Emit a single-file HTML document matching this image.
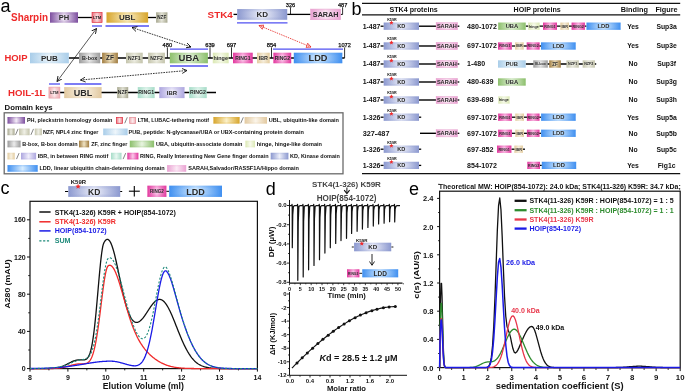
<!DOCTYPE html>
<html><head><meta charset="utf-8"><style>
html,body{margin:0;padding:0;background:#fff;overflow:hidden;width:685px;height:392px;}
svg{display:block;font-family:"Liberation Sans",Arial,sans-serif;}
</style></head><body>
<svg width="685" height="392" viewBox="0 0 685 392">
<defs>
<linearGradient id="h_ph" x1="0" y1="0" x2="1" y2="0"><stop offset="0" stop-color="#7d4f9f"/><stop offset="0.5" stop-color="#f4ecf8"/><stop offset="1" stop-color="#7d4f9f"/></linearGradient>
<linearGradient id="v_ph" x1="0" y1="0" x2="0" y2="1"><stop offset="0" stop-color="#7d4f9f" stop-opacity="0.35"/><stop offset="0.3" stop-color="#7d4f9f" stop-opacity="0"/><stop offset="0.7" stop-color="#7d4f9f" stop-opacity="0"/><stop offset="1" stop-color="#7d4f9f" stop-opacity="0.35"/></linearGradient>
<linearGradient id="h_ltm" x1="0" y1="0" x2="1" y2="0"><stop offset="0" stop-color="#e8707c"/><stop offset="0.5" stop-color="#fbe0e2"/><stop offset="1" stop-color="#e8707c"/></linearGradient>
<linearGradient id="v_ltm" x1="0" y1="0" x2="0" y2="1"><stop offset="0" stop-color="#e8707c" stop-opacity="0.35"/><stop offset="0.3" stop-color="#e8707c" stop-opacity="0"/><stop offset="0.7" stop-color="#e8707c" stop-opacity="0"/><stop offset="1" stop-color="#e8707c" stop-opacity="0.35"/></linearGradient>
<linearGradient id="h_ltm2" x1="0" y1="0" x2="1" y2="0"><stop offset="0" stop-color="#eeaab0"/><stop offset="0.5" stop-color="#fcecee"/><stop offset="1" stop-color="#eeaab0"/></linearGradient>
<linearGradient id="v_ltm2" x1="0" y1="0" x2="0" y2="1"><stop offset="0" stop-color="#eeaab0" stop-opacity="0.35"/><stop offset="0.3" stop-color="#eeaab0" stop-opacity="0"/><stop offset="0.7" stop-color="#eeaab0" stop-opacity="0"/><stop offset="1" stop-color="#eeaab0" stop-opacity="0.35"/></linearGradient>
<linearGradient id="h_ubl" x1="0" y1="0" x2="1" y2="0"><stop offset="0" stop-color="#d7a52c"/><stop offset="0.5" stop-color="#fbf0c8"/><stop offset="1" stop-color="#d7a52c"/></linearGradient>
<linearGradient id="v_ubl" x1="0" y1="0" x2="0" y2="1"><stop offset="0" stop-color="#d7a52c" stop-opacity="0.35"/><stop offset="0.3" stop-color="#d7a52c" stop-opacity="0"/><stop offset="0.7" stop-color="#d7a52c" stop-opacity="0"/><stop offset="1" stop-color="#d7a52c" stop-opacity="0.35"/></linearGradient>
<linearGradient id="h_ubl2" x1="0" y1="0" x2="1" y2="0"><stop offset="0" stop-color="#e2c9a0"/><stop offset="0.5" stop-color="#fbf5ea"/><stop offset="1" stop-color="#e2c9a0"/></linearGradient>
<linearGradient id="v_ubl2" x1="0" y1="0" x2="0" y2="1"><stop offset="0" stop-color="#e2c9a0" stop-opacity="0.35"/><stop offset="0.3" stop-color="#e2c9a0" stop-opacity="0"/><stop offset="0.7" stop-color="#e2c9a0" stop-opacity="0"/><stop offset="1" stop-color="#e2c9a0" stop-opacity="0.35"/></linearGradient>
<linearGradient id="h_nzf" x1="0" y1="0" x2="1" y2="0"><stop offset="0" stop-color="#a8a890"/><stop offset="0.5" stop-color="#eeeee4"/><stop offset="1" stop-color="#a8a890"/></linearGradient>
<linearGradient id="v_nzf" x1="0" y1="0" x2="0" y2="1"><stop offset="0" stop-color="#a8a890" stop-opacity="0.35"/><stop offset="0.3" stop-color="#a8a890" stop-opacity="0"/><stop offset="0.7" stop-color="#a8a890" stop-opacity="0"/><stop offset="1" stop-color="#a8a890" stop-opacity="0.35"/></linearGradient>
<linearGradient id="h_pub" x1="0" y1="0" x2="1" y2="0"><stop offset="0" stop-color="#a9cde9"/><stop offset="0.5" stop-color="#eef6fb"/><stop offset="1" stop-color="#a9cde9"/></linearGradient>
<linearGradient id="v_pub" x1="0" y1="0" x2="0" y2="1"><stop offset="0" stop-color="#a9cde9" stop-opacity="0.35"/><stop offset="0.3" stop-color="#a9cde9" stop-opacity="0"/><stop offset="0.7" stop-color="#a9cde9" stop-opacity="0"/><stop offset="1" stop-color="#a9cde9" stop-opacity="0.35"/></linearGradient>
<linearGradient id="h_bbox" x1="0" y1="0" x2="1" y2="0"><stop offset="0" stop-color="#9c9c9c"/><stop offset="0.5" stop-color="#ececec"/><stop offset="1" stop-color="#9c9c9c"/></linearGradient>
<linearGradient id="v_bbox" x1="0" y1="0" x2="0" y2="1"><stop offset="0" stop-color="#9c9c9c" stop-opacity="0.35"/><stop offset="0.3" stop-color="#9c9c9c" stop-opacity="0"/><stop offset="0.7" stop-color="#9c9c9c" stop-opacity="0"/><stop offset="1" stop-color="#9c9c9c" stop-opacity="0.35"/></linearGradient>
<linearGradient id="h_zf" x1="0" y1="0" x2="1" y2="0"><stop offset="0" stop-color="#a07c40"/><stop offset="0.5" stop-color="#f0e4c4"/><stop offset="1" stop-color="#a07c40"/></linearGradient>
<linearGradient id="v_zf" x1="0" y1="0" x2="0" y2="1"><stop offset="0" stop-color="#a07c40" stop-opacity="0.35"/><stop offset="0.3" stop-color="#a07c40" stop-opacity="0"/><stop offset="0.7" stop-color="#a07c40" stop-opacity="0"/><stop offset="1" stop-color="#a07c40" stop-opacity="0.35"/></linearGradient>
<linearGradient id="h_nzfh" x1="0" y1="0" x2="1" y2="0"><stop offset="0" stop-color="#c4c4ac"/><stop offset="0.5" stop-color="#f0f0e6"/><stop offset="1" stop-color="#c4c4ac"/></linearGradient>
<linearGradient id="v_nzfh" x1="0" y1="0" x2="0" y2="1"><stop offset="0" stop-color="#c4c4ac" stop-opacity="0.35"/><stop offset="0.3" stop-color="#c4c4ac" stop-opacity="0"/><stop offset="0.7" stop-color="#c4c4ac" stop-opacity="0"/><stop offset="1" stop-color="#c4c4ac" stop-opacity="0.35"/></linearGradient>
<linearGradient id="h_uba" x1="0" y1="0" x2="1" y2="0"><stop offset="0" stop-color="#8cbf6c"/><stop offset="0.5" stop-color="#e8f4e0"/><stop offset="1" stop-color="#8cbf6c"/></linearGradient>
<linearGradient id="v_uba" x1="0" y1="0" x2="0" y2="1"><stop offset="0" stop-color="#8cbf6c" stop-opacity="0.35"/><stop offset="0.3" stop-color="#8cbf6c" stop-opacity="0"/><stop offset="0.7" stop-color="#8cbf6c" stop-opacity="0"/><stop offset="1" stop-color="#8cbf6c" stop-opacity="0.35"/></linearGradient>
<linearGradient id="h_hinge" x1="0" y1="0" x2="1" y2="0"><stop offset="0" stop-color="#dbe8b4"/><stop offset="0.5" stop-color="#f8fbee"/><stop offset="1" stop-color="#dbe8b4"/></linearGradient>
<linearGradient id="v_hinge" x1="0" y1="0" x2="0" y2="1"><stop offset="0" stop-color="#dbe8b4" stop-opacity="0.35"/><stop offset="0.3" stop-color="#dbe8b4" stop-opacity="0"/><stop offset="0.7" stop-color="#dbe8b4" stop-opacity="0"/><stop offset="1" stop-color="#dbe8b4" stop-opacity="0.35"/></linearGradient>
<linearGradient id="h_ring" x1="0" y1="0" x2="1" y2="0"><stop offset="0" stop-color="#e2389e"/><stop offset="0.5" stop-color="#fbc8ea"/><stop offset="1" stop-color="#e2389e"/></linearGradient>
<linearGradient id="v_ring" x1="0" y1="0" x2="0" y2="1"><stop offset="0" stop-color="#e2389e" stop-opacity="0.35"/><stop offset="0.3" stop-color="#e2389e" stop-opacity="0"/><stop offset="0.7" stop-color="#e2389e" stop-opacity="0"/><stop offset="1" stop-color="#e2389e" stop-opacity="0.35"/></linearGradient>
<linearGradient id="h_ibr" x1="0" y1="0" x2="1" y2="0"><stop offset="0" stop-color="#e3cc9f"/><stop offset="0.5" stop-color="#f8f2e4"/><stop offset="1" stop-color="#e3cc9f"/></linearGradient>
<linearGradient id="v_ibr" x1="0" y1="0" x2="0" y2="1"><stop offset="0" stop-color="#e3cc9f" stop-opacity="0.35"/><stop offset="0.3" stop-color="#e3cc9f" stop-opacity="0"/><stop offset="0.7" stop-color="#e3cc9f" stop-opacity="0"/><stop offset="1" stop-color="#e3cc9f" stop-opacity="0.35"/></linearGradient>
<linearGradient id="h_ldd" x1="0" y1="0" x2="1" y2="0"><stop offset="0" stop-color="#3f8ff0"/><stop offset="0.5" stop-color="#d6ecff"/><stop offset="1" stop-color="#3f8ff0"/></linearGradient>
<linearGradient id="v_ldd" x1="0" y1="0" x2="0" y2="1"><stop offset="0" stop-color="#3f8ff0" stop-opacity="0.35"/><stop offset="0.3" stop-color="#3f8ff0" stop-opacity="0"/><stop offset="0.7" stop-color="#3f8ff0" stop-opacity="0"/><stop offset="1" stop-color="#3f8ff0" stop-opacity="0.35"/></linearGradient>
<linearGradient id="h_kd" x1="0" y1="0" x2="1" y2="0"><stop offset="0" stop-color="#8b98cf"/><stop offset="0.5" stop-color="#eef0fa"/><stop offset="1" stop-color="#8b98cf"/></linearGradient>
<linearGradient id="v_kd" x1="0" y1="0" x2="0" y2="1"><stop offset="0" stop-color="#8b98cf" stop-opacity="0.35"/><stop offset="0.3" stop-color="#8b98cf" stop-opacity="0"/><stop offset="0.7" stop-color="#8b98cf" stop-opacity="0"/><stop offset="1" stop-color="#8b98cf" stop-opacity="0.35"/></linearGradient>
<linearGradient id="h_sarah" x1="0" y1="0" x2="1" y2="0"><stop offset="0" stop-color="#eaa2d2"/><stop offset="0.5" stop-color="#fbeaf5"/><stop offset="1" stop-color="#eaa2d2"/></linearGradient>
<linearGradient id="v_sarah" x1="0" y1="0" x2="0" y2="1"><stop offset="0" stop-color="#eaa2d2" stop-opacity="0.35"/><stop offset="0.3" stop-color="#eaa2d2" stop-opacity="0"/><stop offset="0.7" stop-color="#eaa2d2" stop-opacity="0"/><stop offset="1" stop-color="#eaa2d2" stop-opacity="0.35"/></linearGradient>
<linearGradient id="h_ringm" x1="0" y1="0" x2="1" y2="0"><stop offset="0" stop-color="#a6dcc8"/><stop offset="0.5" stop-color="#eaf8f2"/><stop offset="1" stop-color="#a6dcc8"/></linearGradient>
<linearGradient id="v_ringm" x1="0" y1="0" x2="0" y2="1"><stop offset="0" stop-color="#a6dcc8" stop-opacity="0.35"/><stop offset="0.3" stop-color="#a6dcc8" stop-opacity="0"/><stop offset="0.7" stop-color="#a6dcc8" stop-opacity="0"/><stop offset="1" stop-color="#a6dcc8" stop-opacity="0.35"/></linearGradient>
<linearGradient id="h_ibrl" x1="0" y1="0" x2="1" y2="0"><stop offset="0" stop-color="#ada6df"/><stop offset="0.5" stop-color="#f0eefb"/><stop offset="1" stop-color="#ada6df"/></linearGradient>
<linearGradient id="v_ibrl" x1="0" y1="0" x2="0" y2="1"><stop offset="0" stop-color="#ada6df" stop-opacity="0.35"/><stop offset="0.3" stop-color="#ada6df" stop-opacity="0"/><stop offset="0.7" stop-color="#ada6df" stop-opacity="0"/><stop offset="1" stop-color="#ada6df" stop-opacity="0.35"/></linearGradient>
<marker id="ah" markerWidth="6" markerHeight="6" refX="5" refY="3" orient="auto-start-reverse" markerUnits="userSpaceOnUse"><path d="M0,0.5 L5,3 L0,5.5" fill="none" stroke="#000" stroke-width="0.8"/></marker>
<marker id="ahr" markerWidth="6" markerHeight="6" refX="5" refY="3" orient="auto-start-reverse" markerUnits="userSpaceOnUse"><path d="M0.5,0.8 L5,3 L0.5,5.2 Z" fill="none" stroke="#e8322e" stroke-width="0.8"/></marker>
</defs>
<rect x="0.00" y="0.00" width="685.00" height="392.00" fill="#fff" stroke="none" stroke-width="0" />
<text x="0.50" y="12.30" font-size="18" font-weight="normal" fill="#000" text-anchor="start" >a</text>
<text x="11.00" y="21.20" font-size="10.40" font-weight="bold" fill="#ee2a2a" text-anchor="start" textLength="37.00" lengthAdjust="spacingAndGlyphs" >Sharpin</text>
<line x1="78.00" y1="17.50" x2="92.00" y2="17.50" stroke="#000" stroke-width="1.3" />
<line x1="148.00" y1="17.50" x2="156.00" y2="17.50" stroke="#000" stroke-width="1.3" />
<rect x="50.00" y="12.35" width="28.00" height="10.30" fill="url(#h_ph)" stroke="none" stroke-width="0" />
<rect x="50.00" y="12.35" width="28.00" height="10.30" fill="url(#v_ph)" stroke="none" stroke-width="0" />
<text x="64.00" y="20.20" font-size="7.50" font-weight="bold" fill="#2a2a2a" text-anchor="middle" >PH</text>
<rect x="92.00" y="12.35" width="10.10" height="10.30" fill="url(#h_ltm)" stroke="none" stroke-width="0" />
<rect x="92.00" y="12.35" width="10.10" height="10.30" fill="url(#v_ltm)" stroke="#e03040" stroke-width="0.6" />
<text x="97.05" y="19.01" font-size="4.20" font-weight="bold" fill="#2a2a2a" text-anchor="middle" >LTM</text>
<rect x="106.50" y="12.35" width="41.60" height="10.30" fill="url(#h_ubl)" stroke="none" stroke-width="0" />
<rect x="106.50" y="12.35" width="41.60" height="10.30" fill="url(#v_ubl)" stroke="none" stroke-width="0" />
<text x="127.30" y="20.38" font-size="8.00" font-weight="bold" fill="#2a2a2a" text-anchor="middle" >UBL</text>
<rect x="156.10" y="12.35" width="11.30" height="10.30" fill="url(#h_nzf)" stroke="none" stroke-width="0" />
<rect x="156.10" y="12.35" width="11.30" height="10.30" fill="url(#v_nzf)" stroke="none" stroke-width="0" />
<text x="161.75" y="19.16" font-size="4.60" font-weight="bold" fill="#2a2a2a" text-anchor="middle" >NZF</text>
<line x1="92.00" y1="26.00" x2="102.00" y2="26.00" stroke="#5050f2" stroke-width="1.3" />
<line x1="105.50" y1="26.00" x2="149.00" y2="26.00" stroke="#5050f2" stroke-width="1.3" />
<text x="207.60" y="18.10" font-size="9.60" font-weight="bold" fill="#ee2a2a" text-anchor="start" textLength="25.20" lengthAdjust="spacingAndGlyphs" >STK4</text>
<line x1="233.50" y1="14.40" x2="237.20" y2="14.40" stroke="#000" stroke-width="1.3" />
<line x1="287.20" y1="14.40" x2="310.70" y2="14.40" stroke="#000" stroke-width="1.3" />
<line x1="340.60" y1="14.40" x2="342.60" y2="14.40" stroke="#000" stroke-width="1.0" />
<line x1="290.50" y1="14.40" x2="290.50" y2="7.30" stroke="#000" stroke-width="0.8" />
<line x1="342.60" y1="14.40" x2="342.60" y2="7.30" stroke="#000" stroke-width="0.8" />
<rect x="237.20" y="9.05" width="50.00" height="10.70" fill="url(#h_kd)" stroke="none" stroke-width="0" />
<rect x="237.20" y="9.05" width="50.00" height="10.70" fill="url(#v_kd)" stroke="none" stroke-width="0" />
<text x="262.20" y="17.28" font-size="8.00" font-weight="bold" fill="#2a2a2a" text-anchor="middle" >KD</text>
<rect x="310.70" y="9.05" width="29.90" height="10.70" fill="url(#h_sarah)" stroke="none" stroke-width="0" />
<rect x="310.70" y="9.05" width="29.90" height="10.70" fill="url(#v_sarah)" stroke="#e6a0cc" stroke-width="0.5" />
<text x="325.65" y="16.99" font-size="7.20" font-weight="bold" fill="#2a2a2a" text-anchor="middle" >SARAH</text>
<text x="290.50" y="6.80" font-size="5.5" font-weight="normal" fill="#111" text-anchor="middle" textLength="9.40" lengthAdjust="spacingAndGlyphs" stroke="#111" stroke-width="0.25">326</text>
<text x="342.60" y="6.80" font-size="5.5" font-weight="normal" fill="#111" text-anchor="middle" textLength="9.40" lengthAdjust="spacingAndGlyphs" stroke="#111" stroke-width="0.25">487</text>
<line x1="237.00" y1="22.90" x2="287.50" y2="22.90" stroke="#5050f2" stroke-width="1.3" />
<text x="4.40" y="61.30" font-size="9.80" font-weight="bold" fill="#ee2a2a" text-anchor="start" textLength="23.10" lengthAdjust="spacingAndGlyphs" >HOIP</text>
<line x1="68.80" y1="58.00" x2="344.60" y2="58.00" stroke="#000" stroke-width="1.5" />
<rect x="30.00" y="52.75" width="38.80" height="10.50" fill="url(#h_pub)" stroke="none" stroke-width="0" />
<rect x="30.00" y="52.75" width="38.80" height="10.50" fill="url(#v_pub)" stroke="none" stroke-width="0" />
<text x="49.40" y="60.88" font-size="8.00" font-weight="bold" fill="#2a2a2a" text-anchor="middle" >PUB</text>
<rect x="79.00" y="52.75" width="21.20" height="10.50" fill="url(#h_bbox)" stroke="none" stroke-width="0" />
<rect x="79.00" y="52.75" width="21.20" height="10.50" fill="url(#v_bbox)" stroke="none" stroke-width="0" />
<text x="89.60" y="59.94" font-size="5.40" font-weight="bold" fill="#2a2a2a" text-anchor="middle" >B-box</text>
<rect x="102.10" y="52.75" width="15.80" height="10.50" fill="url(#h_zf)" stroke="none" stroke-width="0" />
<rect x="102.10" y="52.75" width="15.80" height="10.50" fill="url(#v_zf)" stroke="none" stroke-width="0" />
<text x="110.00" y="60.34" font-size="6.50" font-weight="bold" fill="#2a2a2a" text-anchor="middle" >ZF</text>
<rect x="126.00" y="52.75" width="16.70" height="10.50" fill="url(#h_nzfh)" stroke="none" stroke-width="0" />
<rect x="126.00" y="52.75" width="16.70" height="10.50" fill="url(#v_nzfh)" stroke="none" stroke-width="0" />
<text x="134.35" y="59.80" font-size="5.00" font-weight="bold" fill="#2a2a2a" text-anchor="middle" >NZF1</text>
<rect x="148.10" y="52.75" width="16.80" height="10.50" fill="url(#h_nzfh)" stroke="none" stroke-width="0" />
<rect x="148.10" y="52.75" width="16.80" height="10.50" fill="url(#v_nzfh)" stroke="none" stroke-width="0" />
<text x="156.50" y="59.80" font-size="5.00" font-weight="bold" fill="#2a2a2a" text-anchor="middle" >NZF2</text>
<rect x="169.80" y="52.75" width="38.10" height="10.50" fill="url(#h_uba)" stroke="none" stroke-width="0" />
<rect x="169.80" y="52.75" width="38.10" height="10.50" fill="url(#v_uba)" stroke="none" stroke-width="0" />
<text x="188.85" y="61.42" font-size="9.50" font-weight="bold" fill="#2a2a2a" text-anchor="middle" >UBA</text>
<rect x="212.80" y="52.75" width="15.80" height="10.50" fill="url(#h_hinge)" stroke="none" stroke-width="0" />
<rect x="212.80" y="52.75" width="15.80" height="10.50" fill="url(#v_hinge)" stroke="none" stroke-width="0" />
<text x="220.70" y="59.94" font-size="5.40" font-weight="bold" fill="#2a2a2a" text-anchor="middle" >hinge</text>
<rect x="233.00" y="52.75" width="19.70" height="10.50" fill="url(#h_ring)" stroke="none" stroke-width="0" />
<rect x="233.00" y="52.75" width="19.70" height="10.50" fill="url(#v_ring)" stroke="none" stroke-width="0" />
<text x="242.85" y="59.80" font-size="5.00" font-weight="bold" fill="#2a2a2a" text-anchor="middle" >RING1</text>
<rect x="257.00" y="52.75" width="12.70" height="10.50" fill="url(#h_ibr)" stroke="none" stroke-width="0" />
<rect x="257.00" y="52.75" width="12.70" height="10.50" fill="url(#v_ibr)" stroke="none" stroke-width="0" />
<text x="263.35" y="59.94" font-size="5.40" font-weight="bold" fill="#2a2a2a" text-anchor="middle" >IBR</text>
<rect x="273.40" y="52.75" width="17.80" height="10.50" fill="url(#h_ring)" stroke="none" stroke-width="0" />
<rect x="273.40" y="52.75" width="17.80" height="10.50" fill="url(#v_ring)" stroke="none" stroke-width="0" />
<text x="282.30" y="59.80" font-size="5.00" font-weight="bold" fill="#2a2a2a" text-anchor="middle" >RING2</text>
<rect x="293.80" y="52.75" width="48.50" height="10.50" fill="url(#h_ldd)" stroke="none" stroke-width="0" />
<rect x="293.80" y="52.75" width="48.50" height="10.50" fill="url(#v_ldd)" stroke="none" stroke-width="0" />
<text x="318.05" y="61.31" font-size="9.20" font-weight="bold" fill="#2a2a2a" text-anchor="middle" >LDD</text>
<line x1="167.40" y1="58.00" x2="167.40" y2="47.40" stroke="#000" stroke-width="0.8" />
<line x1="210.00" y1="58.00" x2="210.00" y2="47.40" stroke="#000" stroke-width="0.8" />
<line x1="231.50" y1="58.00" x2="231.50" y2="47.40" stroke="#000" stroke-width="0.8" />
<line x1="271.50" y1="58.00" x2="271.50" y2="47.40" stroke="#000" stroke-width="0.8" />
<line x1="344.60" y1="58.00" x2="344.60" y2="47.40" stroke="#000" stroke-width="0.8" />
<text x="167.40" y="46.90" font-size="5.5" font-weight="normal" fill="#111" text-anchor="middle" textLength="9.60" lengthAdjust="spacingAndGlyphs" stroke="#111" stroke-width="0.25">480</text>
<text x="210.00" y="46.90" font-size="5.5" font-weight="normal" fill="#111" text-anchor="middle" textLength="9.60" lengthAdjust="spacingAndGlyphs" stroke="#111" stroke-width="0.25">639</text>
<text x="231.50" y="46.90" font-size="5.5" font-weight="normal" fill="#111" text-anchor="middle" textLength="9.60" lengthAdjust="spacingAndGlyphs" stroke="#111" stroke-width="0.25">697</text>
<text x="271.50" y="46.90" font-size="5.5" font-weight="normal" fill="#111" text-anchor="middle" textLength="9.60" lengthAdjust="spacingAndGlyphs" stroke="#111" stroke-width="0.25">854</text>
<text x="344.60" y="46.90" font-size="5.5" font-weight="normal" fill="#111" text-anchor="middle" textLength="12.60" lengthAdjust="spacingAndGlyphs" stroke="#111" stroke-width="0.25">1072</text>
<line x1="170.00" y1="49.10" x2="208.00" y2="49.10" stroke="#5050f2" stroke-width="1.3" />
<line x1="170.00" y1="66.00" x2="208.00" y2="66.00" stroke="#5050f2" stroke-width="1.3" />
<line x1="273.00" y1="49.10" x2="343.00" y2="49.10" stroke="#5050f2" stroke-width="1.3" />
<text x="8.00" y="95.70" font-size="9.60" font-weight="bold" fill="#ee2a2a" text-anchor="start" textLength="37.50" lengthAdjust="spacingAndGlyphs" >HOIL-1L</text>
<line x1="59.90" y1="92.60" x2="216.00" y2="92.60" stroke="#000" stroke-width="1.5" />
<rect x="48.90" y="87.10" width="11.00" height="11.00" fill="url(#h_ltm2)" stroke="none" stroke-width="0" />
<rect x="48.90" y="87.10" width="11.00" height="11.00" fill="url(#v_ltm2)" stroke="#e9a0a8" stroke-width="0.6" />
<text x="54.40" y="94.11" font-size="4.20" font-weight="bold" fill="#2a2a2a" text-anchor="middle" >LTM</text>
<rect x="64.20" y="87.10" width="37.40" height="11.00" fill="url(#h_ubl2)" stroke="none" stroke-width="0" />
<rect x="64.20" y="87.10" width="37.40" height="11.00" fill="url(#v_ubl2)" stroke="none" stroke-width="0" />
<text x="82.90" y="95.84" font-size="9.00" font-weight="bold" fill="#2a2a2a" text-anchor="middle" >UBL</text>
<rect x="117.20" y="87.10" width="11.00" height="11.00" fill="url(#h_nzf)" stroke="none" stroke-width="0" />
<rect x="117.20" y="87.10" width="11.00" height="11.00" fill="url(#v_nzf)" stroke="none" stroke-width="0" />
<text x="122.70" y="94.40" font-size="5.00" font-weight="bold" fill="#2a2a2a" text-anchor="middle" >NZF</text>
<rect x="137.80" y="87.10" width="16.80" height="11.00" fill="url(#h_ringm)" stroke="none" stroke-width="0" />
<rect x="137.80" y="87.10" width="16.80" height="11.00" fill="url(#v_ringm)" stroke="none" stroke-width="0" />
<text x="146.20" y="94.47" font-size="5.20" font-weight="bold" fill="#2a2a2a" text-anchor="middle" >RING1</text>
<rect x="159.30" y="87.10" width="25.20" height="11.00" fill="url(#h_ibrl)" stroke="none" stroke-width="0" />
<rect x="159.30" y="87.10" width="25.20" height="11.00" fill="url(#v_ibrl)" stroke="none" stroke-width="0" />
<text x="171.90" y="94.76" font-size="6.00" font-weight="bold" fill="#2a2a2a" text-anchor="middle" >IBR</text>
<rect x="189.20" y="87.10" width="17.50" height="11.00" fill="url(#h_ringm)" stroke="none" stroke-width="0" />
<rect x="189.20" y="87.10" width="17.50" height="11.00" fill="url(#v_ringm)" stroke="none" stroke-width="0" />
<text x="197.95" y="94.47" font-size="5.20" font-weight="bold" fill="#2a2a2a" text-anchor="middle" >RING2</text>
<line x1="49.00" y1="84.00" x2="60.00" y2="84.00" stroke="#5050f2" stroke-width="1.3" />
<line x1="64.50" y1="84.00" x2="101.40" y2="84.00" stroke="#5050f2" stroke-width="1.3" />
<line x1="96.5" y1="28.5" x2="57" y2="81.5" stroke="#111" stroke-width="0.7" marker-end="url(#ah)" marker-start="url(#ah)"/>
<line x1="132" y1="27.5" x2="191" y2="47" stroke="#111" stroke-width="0.85" stroke-dasharray="1.6,1" marker-end="url(#ah)" marker-start="url(#ah)"/>
<line x1="80.5" y1="80" x2="187" y2="70.5" stroke="#111" stroke-width="0.85" stroke-dasharray="1.6,1" marker-end="url(#ah)" marker-start="url(#ah)"/>
<line x1="259" y1="25.5" x2="311" y2="47" stroke="#e8322e" stroke-width="0.9" stroke-dasharray="1.4,1" marker-end="url(#ahr)" marker-start="url(#ahr)"/>
<text x="4.60" y="109.70" font-size="7.78" font-weight="bold" fill="#111" text-anchor="start" textLength="48.00" lengthAdjust="spacingAndGlyphs" >Domain keys</text>
<rect x="4.20" y="112.80" width="338.80" height="61.00" fill="none" stroke="#6a6a6a" stroke-width="1.3" />
<rect x="7.50" y="117.00" width="17.50" height="6.60" fill="url(#h_ph)" stroke="none" stroke-width="0" />
<rect x="7.50" y="117.00" width="17.50" height="6.60" fill="url(#v_ph)" stroke="none" stroke-width="0" />
<text x="26.90" y="122.20" font-size="5.50" font-weight="bold" fill="#111" text-anchor="start" textLength="85.60" lengthAdjust="spacingAndGlyphs" >PH, pleckstrin homology domain</text>
<rect x="116.20" y="117.00" width="6.60" height="6.60" fill="url(#h_ltm)" stroke="none" stroke-width="0" />
<rect x="116.20" y="117.00" width="6.60" height="6.60" fill="url(#v_ltm)" stroke="none" stroke-width="0" />
<rect x="116.50" y="117.30" width="6.00" height="6.00" fill="none" stroke="#e03040" stroke-width="0.6" />
<line x1="124.70" y1="123.30" x2="127.30" y2="117.30" stroke="#333" stroke-width="0.6" />
<rect x="129.40" y="117.00" width="6.50" height="6.60" fill="url(#h_ltm2)" stroke="none" stroke-width="0" />
<rect x="129.40" y="117.00" width="6.50" height="6.60" fill="url(#v_ltm2)" stroke="none" stroke-width="0" />
<rect x="129.70" y="117.30" width="5.90" height="6.00" fill="none" stroke="#e58a95" stroke-width="0.6" />
<text x="137.70" y="122.20" font-size="5.33" font-weight="bold" fill="#111" text-anchor="start" textLength="71.30" lengthAdjust="spacingAndGlyphs" >LTM, LUBAC-tethering motif</text>
<rect x="213.40" y="117.00" width="26.20" height="6.60" fill="url(#h_ubl)" stroke="none" stroke-width="0" />
<rect x="213.40" y="117.00" width="26.20" height="6.60" fill="url(#v_ubl)" stroke="none" stroke-width="0" />
<line x1="240.70" y1="123.30" x2="243.30" y2="117.30" stroke="#333" stroke-width="0.6" />
<rect x="244.60" y="117.00" width="22.40" height="6.60" fill="url(#h_ubl2)" stroke="none" stroke-width="0" />
<rect x="244.60" y="117.00" width="22.40" height="6.60" fill="url(#v_ubl2)" stroke="none" stroke-width="0" />
<text x="268.70" y="122.20" font-size="5.55" font-weight="bold" fill="#111" text-anchor="start" textLength="70.30" lengthAdjust="spacingAndGlyphs" >UBL, ubiquitin-like domain</text>
<rect x="7.50" y="128.60" width="7.10" height="6.60" fill="url(#h_nzf)" stroke="none" stroke-width="0" />
<rect x="7.50" y="128.60" width="7.10" height="6.60" fill="url(#v_nzf)" stroke="none" stroke-width="0" />
<line x1="15.50" y1="134.90" x2="18.10" y2="128.90" stroke="#333" stroke-width="0.6" />
<rect x="19.00" y="128.60" width="10.60" height="6.60" fill="url(#h_nzfh)" stroke="none" stroke-width="0" />
<rect x="19.00" y="128.60" width="10.60" height="6.60" fill="url(#v_nzfh)" stroke="none" stroke-width="0" />
<line x1="30.90" y1="134.90" x2="33.50" y2="128.90" stroke="#333" stroke-width="0.6" />
<rect x="34.80" y="128.60" width="7.10" height="6.60" fill="url(#h_nzfh)" stroke="none" stroke-width="0" />
<rect x="34.80" y="128.60" width="7.10" height="6.60" fill="url(#v_nzfh)" stroke="none" stroke-width="0" />
<text x="42.90" y="133.80" font-size="5.44" font-weight="bold" fill="#111" text-anchor="start" textLength="55.60" lengthAdjust="spacingAndGlyphs" >NZF, NPL4 zinc finger</text>
<rect x="103.20" y="128.60" width="24.40" height="6.60" fill="url(#h_pub)" stroke="none" stroke-width="0" />
<rect x="103.20" y="128.60" width="24.40" height="6.60" fill="url(#v_pub)" stroke="none" stroke-width="0" />
<text x="128.60" y="133.80" font-size="5.53" font-weight="bold" fill="#111" text-anchor="start" textLength="175.20" lengthAdjust="spacingAndGlyphs" >PUB, peptide: N-glycanase/UBA or UBX-containing protein domain</text>
<rect x="7.50" y="140.70" width="13.10" height="6.60" fill="url(#h_bbox)" stroke="none" stroke-width="0" />
<rect x="7.50" y="140.70" width="13.10" height="6.60" fill="url(#v_bbox)" stroke="none" stroke-width="0" />
<text x="22.30" y="145.90" font-size="5.49" font-weight="bold" fill="#111" text-anchor="start" textLength="55.20" lengthAdjust="spacingAndGlyphs" >B-box, B-box domain</text>
<rect x="79.00" y="140.70" width="10.10" height="6.60" fill="url(#h_zf)" stroke="none" stroke-width="0" />
<rect x="79.00" y="140.70" width="10.10" height="6.60" fill="url(#v_zf)" stroke="none" stroke-width="0" />
<text x="91.30" y="145.90" font-size="5.40" font-weight="bold" fill="#111" text-anchor="start" textLength="36.00" lengthAdjust="spacingAndGlyphs" >ZF, zinc finger</text>
<rect x="129.80" y="140.70" width="24.30" height="6.60" fill="url(#h_uba)" stroke="none" stroke-width="0" />
<rect x="129.80" y="140.70" width="24.30" height="6.60" fill="url(#v_uba)" stroke="none" stroke-width="0" />
<text x="156.00" y="145.90" font-size="5.52" font-weight="bold" fill="#111" text-anchor="start" textLength="86.50" lengthAdjust="spacingAndGlyphs" >UBA, ubiquitin-associate domain</text>
<rect x="245.40" y="140.70" width="9.60" height="6.60" fill="url(#h_hinge)" stroke="none" stroke-width="0" />
<rect x="245.40" y="140.70" width="9.60" height="6.60" fill="url(#v_hinge)" stroke="none" stroke-width="0" />
<text x="256.70" y="145.90" font-size="5.57" font-weight="bold" fill="#111" text-anchor="start" textLength="65.30" lengthAdjust="spacingAndGlyphs" >hinge, hinge-like domain</text>
<rect x="7.50" y="152.80" width="7.20" height="6.60" fill="url(#h_ibr)" stroke="none" stroke-width="0" />
<rect x="7.50" y="152.80" width="7.20" height="6.60" fill="url(#v_ibr)" stroke="none" stroke-width="0" />
<line x1="16.50" y1="159.10" x2="19.10" y2="153.10" stroke="#333" stroke-width="0.6" />
<rect x="21.00" y="152.80" width="15.10" height="6.60" fill="url(#h_ibrl)" stroke="none" stroke-width="0" />
<rect x="21.00" y="152.80" width="15.10" height="6.60" fill="url(#v_ibrl)" stroke="none" stroke-width="0" />
<text x="37.80" y="158.00" font-size="5.44" font-weight="bold" fill="#111" text-anchor="start" textLength="70.40" lengthAdjust="spacingAndGlyphs" >IBR, in between RING motif</text>
<rect x="111.00" y="152.80" width="10.50" height="6.60" fill="url(#h_ringm)" stroke="none" stroke-width="0" />
<rect x="111.00" y="152.80" width="10.50" height="6.60" fill="url(#v_ringm)" stroke="none" stroke-width="0" />
<line x1="123.10" y1="159.10" x2="125.70" y2="153.10" stroke="#333" stroke-width="0.6" />
<rect x="127.30" y="152.80" width="11.10" height="6.60" fill="url(#h_ring)" stroke="none" stroke-width="0" />
<rect x="127.30" y="152.80" width="11.10" height="6.60" fill="url(#v_ring)" stroke="none" stroke-width="0" />
<text x="140.00" y="158.00" font-size="5.49" font-weight="bold" fill="#111" text-anchor="start" textLength="128.50" lengthAdjust="spacingAndGlyphs" >RING, Really Interesting New Gene finger domain</text>
<rect x="270.70" y="152.80" width="17.70" height="6.60" fill="url(#h_kd)" stroke="none" stroke-width="0" />
<rect x="270.70" y="152.80" width="17.70" height="6.60" fill="url(#v_kd)" stroke="none" stroke-width="0" />
<text x="290.00" y="158.00" font-size="5.47" font-weight="bold" fill="#111" text-anchor="start" textLength="49.80" lengthAdjust="spacingAndGlyphs" >KD, Kinase domain</text>
<rect x="7.50" y="165.10" width="30.20" height="6.60" fill="url(#h_ldd)" stroke="none" stroke-width="0" />
<rect x="7.50" y="165.10" width="30.20" height="6.60" fill="url(#v_ldd)" stroke="none" stroke-width="0" />
<text x="39.40" y="170.30" font-size="5.55" font-weight="bold" fill="#111" text-anchor="start" textLength="125.20" lengthAdjust="spacingAndGlyphs" >LDD, linear ubiquitin chain-determining domain</text>
<rect x="167.10" y="165.10" width="19.10" height="6.60" fill="url(#h_sarah)" stroke="none" stroke-width="0" />
<rect x="167.10" y="165.10" width="19.10" height="6.60" fill="url(#v_sarah)" stroke="none" stroke-width="0" />
<text x="188.20" y="170.30" font-size="5.55" font-weight="bold" fill="#111" text-anchor="start" textLength="110.70" lengthAdjust="spacingAndGlyphs" >SARAH,Salvador/RASSF1A/Hippo domain</text>
<text x="351.50" y="14.80" font-size="18" font-weight="normal" fill="#000" text-anchor="start" >b</text>
<line x1="362.00" y1="3.40" x2="680.20" y2="3.40" stroke="#111" stroke-width="1.3" />
<line x1="362.00" y1="14.80" x2="680.20" y2="14.80" stroke="#111" stroke-width="1.3" />
<line x1="362.00" y1="173.60" x2="680.20" y2="173.60" stroke="#111" stroke-width="1.3" />
<text x="389.50" y="11.90" font-size="7.11" font-weight="bold" fill="#111" text-anchor="start" textLength="48.20" lengthAdjust="spacingAndGlyphs" >STK4 proteins</text>
<text x="513.50" y="11.90" font-size="7.11" font-weight="bold" fill="#111" text-anchor="start" textLength="47.30" lengthAdjust="spacingAndGlyphs" >HOIP proteins</text>
<text x="620.80" y="11.90" font-size="7.31" font-weight="bold" fill="#111" text-anchor="start" textLength="27.20" lengthAdjust="spacingAndGlyphs" >Binding</text>
<text x="655.40" y="11.90" font-size="7.27" font-weight="bold" fill="#111" text-anchor="start" textLength="22.20" lengthAdjust="spacingAndGlyphs" >Figure</text>
<text x="362.70" y="28.60" font-size="6.92" font-weight="bold" fill="#111" text-anchor="start" textLength="17.70" lengthAdjust="spacingAndGlyphs" >1-487</text>
<line x1="380.60" y1="26.20" x2="383.70" y2="26.20" stroke="#000" stroke-width="1.3" />
<rect x="383.70" y="22.60" width="35.30" height="7.20" fill="url(#h_kd)" stroke="none" stroke-width="0" />
<rect x="383.70" y="22.60" width="35.30" height="7.20" fill="url(#v_kd)" stroke="none" stroke-width="0" />
<text x="401.35" y="28.22" font-size="5.60" font-weight="bold" fill="#2a2a2a" text-anchor="middle" >KD</text>
<polygon points="391.40,20.50 392.01,21.96 393.59,22.09 392.38,23.12 392.75,24.66 391.40,23.84 390.05,24.66 390.42,23.12 389.21,22.09 390.79,21.96" fill="#f02a2a"/>
<text x="387.20" y="20.60" font-size="3.20" font-weight="bold" fill="#111" text-anchor="start" textLength="9.40" lengthAdjust="spacingAndGlyphs" >K59R</text>
<line x1="419.00" y1="26.20" x2="436.10" y2="26.20" stroke="#000" stroke-width="1.4" />
<rect x="436.10" y="22.60" width="21.50" height="7.20" fill="url(#h_sarah)" stroke="none" stroke-width="0" />
<rect x="436.10" y="22.60" width="21.50" height="7.20" fill="url(#v_sarah)" stroke="#e6a0cc" stroke-width="0.4" />
<text x="446.85" y="28.22" font-size="5.60" font-weight="bold" fill="#2a2a2a" text-anchor="middle" >SARAH</text>
<line x1="457.60" y1="26.20" x2="459.30" y2="26.20" stroke="#000" stroke-width="1.3" />
<text x="467.10" y="28.60" font-size="7.08" font-weight="bold" fill="#111" text-anchor="start" textLength="29.90" lengthAdjust="spacingAndGlyphs" >480-1072</text>
<line x1="525.70" y1="26.20" x2="586.50" y2="26.20" stroke="#000" stroke-width="1.3" />
<rect x="498.20" y="22.60" width="27.50" height="7.20" fill="url(#h_uba)" stroke="none" stroke-width="0" />
<rect x="498.20" y="22.60" width="27.50" height="7.20" fill="url(#v_uba)" stroke="none" stroke-width="0" />
<text x="511.95" y="28.29" font-size="5.80" font-weight="bold" fill="#2a2a2a" text-anchor="middle" >UBA</text>
<rect x="528.20" y="22.60" width="11.40" height="7.20" fill="url(#h_hinge)" stroke="none" stroke-width="0" />
<rect x="528.20" y="22.60" width="11.40" height="7.20" fill="url(#v_hinge)" stroke="none" stroke-width="0" />
<text x="533.90" y="27.53" font-size="3.70" font-weight="bold" fill="#2a2a2a" text-anchor="middle" >hinge</text>
<rect x="543.00" y="22.60" width="14.00" height="7.20" fill="url(#h_ring)" stroke="none" stroke-width="0" />
<rect x="543.00" y="22.60" width="14.00" height="7.20" fill="url(#v_ring)" stroke="none" stroke-width="0" />
<text x="550.00" y="27.53" font-size="3.70" font-weight="bold" fill="#2a2a2a" text-anchor="middle" >RING1</text>
<rect x="560.40" y="22.60" width="8.60" height="7.20" fill="url(#h_ibr)" stroke="none" stroke-width="0" />
<rect x="560.40" y="22.60" width="8.60" height="7.20" fill="url(#v_ibr)" stroke="none" stroke-width="0" />
<text x="564.70" y="27.53" font-size="3.70" font-weight="bold" fill="#2a2a2a" text-anchor="middle" >IBR</text>
<rect x="571.60" y="22.60" width="13.30" height="7.20" fill="url(#h_ring)" stroke="none" stroke-width="0" />
<rect x="571.60" y="22.60" width="13.30" height="7.20" fill="url(#v_ring)" stroke="none" stroke-width="0" />
<text x="578.25" y="27.53" font-size="3.70" font-weight="bold" fill="#2a2a2a" text-anchor="middle" >RING2</text>
<rect x="586.50" y="22.60" width="34.10" height="7.20" fill="url(#h_ldd)" stroke="none" stroke-width="0" />
<rect x="586.50" y="22.60" width="34.10" height="7.20" fill="url(#v_ldd)" stroke="none" stroke-width="0" />
<text x="603.55" y="28.29" font-size="5.80" font-weight="bold" fill="#2a2a2a" text-anchor="middle" >LDD</text>
<text x="633.00" y="28.60" font-size="6.8" font-weight="bold" fill="#111" text-anchor="middle" >Yes</text>
<text x="666.60" y="28.60" font-size="6.8" font-weight="bold" fill="#111" text-anchor="middle" >Sup3a</text>
<text x="362.70" y="48.40" font-size="6.92" font-weight="bold" fill="#111" text-anchor="start" textLength="17.70" lengthAdjust="spacingAndGlyphs" >1-487</text>
<line x1="380.60" y1="46.00" x2="383.70" y2="46.00" stroke="#000" stroke-width="1.3" />
<rect x="383.70" y="42.40" width="35.30" height="7.20" fill="url(#h_kd)" stroke="none" stroke-width="0" />
<rect x="383.70" y="42.40" width="35.30" height="7.20" fill="url(#v_kd)" stroke="none" stroke-width="0" />
<text x="401.35" y="48.02" font-size="5.60" font-weight="bold" fill="#2a2a2a" text-anchor="middle" >KD</text>
<polygon points="391.40,40.30 392.01,41.76 393.59,41.89 392.38,42.92 392.75,44.46 391.40,43.63 390.05,44.46 390.42,42.92 389.21,41.89 390.79,41.76" fill="#f02a2a"/>
<text x="387.20" y="40.40" font-size="3.20" font-weight="bold" fill="#111" text-anchor="start" textLength="9.40" lengthAdjust="spacingAndGlyphs" >K59R</text>
<line x1="419.00" y1="46.00" x2="436.10" y2="46.00" stroke="#000" stroke-width="1.4" />
<rect x="436.10" y="42.40" width="21.50" height="7.20" fill="url(#h_sarah)" stroke="none" stroke-width="0" />
<rect x="436.10" y="42.40" width="21.50" height="7.20" fill="url(#v_sarah)" stroke="#e6a0cc" stroke-width="0.4" />
<text x="446.85" y="48.02" font-size="5.60" font-weight="bold" fill="#2a2a2a" text-anchor="middle" >SARAH</text>
<line x1="457.60" y1="46.00" x2="459.30" y2="46.00" stroke="#000" stroke-width="1.3" />
<text x="467.10" y="48.40" font-size="7.08" font-weight="bold" fill="#111" text-anchor="start" textLength="29.90" lengthAdjust="spacingAndGlyphs" >697-1072</text>
<line x1="511.80" y1="46.00" x2="541.00" y2="46.00" stroke="#000" stroke-width="1.3" />
<rect x="498.00" y="42.40" width="13.80" height="7.20" fill="url(#h_ring)" stroke="none" stroke-width="0" />
<rect x="498.00" y="42.40" width="13.80" height="7.20" fill="url(#v_ring)" stroke="none" stroke-width="0" />
<text x="504.90" y="47.33" font-size="3.70" font-weight="bold" fill="#2a2a2a" text-anchor="middle" >RING1</text>
<rect x="515.10" y="42.40" width="8.60" height="7.20" fill="url(#h_ibr)" stroke="none" stroke-width="0" />
<rect x="515.10" y="42.40" width="8.60" height="7.20" fill="url(#v_ibr)" stroke="none" stroke-width="0" />
<text x="519.40" y="47.33" font-size="3.70" font-weight="bold" fill="#2a2a2a" text-anchor="middle" >IBR</text>
<rect x="526.70" y="42.40" width="12.90" height="7.20" fill="url(#h_ring)" stroke="none" stroke-width="0" />
<rect x="526.70" y="42.40" width="12.90" height="7.20" fill="url(#v_ring)" stroke="none" stroke-width="0" />
<text x="533.15" y="47.33" font-size="3.70" font-weight="bold" fill="#2a2a2a" text-anchor="middle" >RING2</text>
<rect x="541.00" y="42.40" width="34.70" height="7.20" fill="url(#h_ldd)" stroke="none" stroke-width="0" />
<rect x="541.00" y="42.40" width="34.70" height="7.20" fill="url(#v_ldd)" stroke="none" stroke-width="0" />
<text x="558.35" y="48.09" font-size="5.80" font-weight="bold" fill="#2a2a2a" text-anchor="middle" >LDD</text>
<text x="633.00" y="48.40" font-size="6.8" font-weight="bold" fill="#111" text-anchor="middle" >Yes</text>
<text x="666.60" y="48.40" font-size="6.8" font-weight="bold" fill="#111" text-anchor="middle" >Sup3e</text>
<text x="362.70" y="66.40" font-size="6.92" font-weight="bold" fill="#111" text-anchor="start" textLength="17.70" lengthAdjust="spacingAndGlyphs" >1-487</text>
<line x1="380.60" y1="64.00" x2="383.70" y2="64.00" stroke="#000" stroke-width="1.3" />
<rect x="383.70" y="60.40" width="35.30" height="7.20" fill="url(#h_kd)" stroke="none" stroke-width="0" />
<rect x="383.70" y="60.40" width="35.30" height="7.20" fill="url(#v_kd)" stroke="none" stroke-width="0" />
<text x="401.35" y="66.02" font-size="5.60" font-weight="bold" fill="#2a2a2a" text-anchor="middle" >KD</text>
<polygon points="391.40,58.30 392.01,59.76 393.59,59.89 392.38,60.92 392.75,62.46 391.40,61.63 390.05,62.46 390.42,60.92 389.21,59.89 390.79,59.76" fill="#f02a2a"/>
<text x="387.20" y="58.40" font-size="3.20" font-weight="bold" fill="#111" text-anchor="start" textLength="9.40" lengthAdjust="spacingAndGlyphs" >K59R</text>
<line x1="419.00" y1="64.00" x2="436.10" y2="64.00" stroke="#000" stroke-width="1.4" />
<rect x="436.10" y="60.40" width="21.50" height="7.20" fill="url(#h_sarah)" stroke="none" stroke-width="0" />
<rect x="436.10" y="60.40" width="21.50" height="7.20" fill="url(#v_sarah)" stroke="#e6a0cc" stroke-width="0.4" />
<text x="446.85" y="66.02" font-size="5.60" font-weight="bold" fill="#2a2a2a" text-anchor="middle" >SARAH</text>
<line x1="457.60" y1="64.00" x2="459.30" y2="64.00" stroke="#000" stroke-width="1.3" />
<text x="467.10" y="66.40" font-size="7.04" font-weight="bold" fill="#111" text-anchor="start" textLength="18.00" lengthAdjust="spacingAndGlyphs" >1-480</text>
<line x1="525.70" y1="64.00" x2="596.20" y2="64.00" stroke="#000" stroke-width="1.3" />
<rect x="498.00" y="60.40" width="27.70" height="7.20" fill="url(#h_pub)" stroke="none" stroke-width="0" />
<rect x="498.00" y="60.40" width="27.70" height="7.20" fill="url(#v_pub)" stroke="none" stroke-width="0" />
<text x="511.85" y="66.09" font-size="5.80" font-weight="bold" fill="#2a2a2a" text-anchor="middle" >PUB</text>
<rect x="533.30" y="60.40" width="14.50" height="7.20" fill="url(#h_bbox)" stroke="none" stroke-width="0" />
<rect x="533.30" y="60.40" width="14.50" height="7.20" fill="url(#v_bbox)" stroke="none" stroke-width="0" />
<text x="540.55" y="65.33" font-size="3.70" font-weight="bold" fill="#2a2a2a" text-anchor="middle" >B-box</text>
<rect x="549.20" y="60.40" width="11.60" height="7.20" fill="url(#h_zf)" stroke="none" stroke-width="0" />
<rect x="549.20" y="60.40" width="11.60" height="7.20" fill="url(#v_zf)" stroke="none" stroke-width="0" />
<text x="555.00" y="65.66" font-size="4.60" font-weight="bold" fill="#2a2a2a" text-anchor="middle" >ZF</text>
<rect x="566.50" y="60.40" width="12.30" height="7.20" fill="url(#h_nzfh)" stroke="none" stroke-width="0" />
<rect x="566.50" y="60.40" width="12.30" height="7.20" fill="url(#v_nzfh)" stroke="none" stroke-width="0" />
<text x="572.65" y="65.33" font-size="3.70" font-weight="bold" fill="#2a2a2a" text-anchor="middle" >NZF1</text>
<rect x="582.70" y="60.40" width="12.20" height="7.20" fill="url(#h_nzfh)" stroke="none" stroke-width="0" />
<rect x="582.70" y="60.40" width="12.20" height="7.20" fill="url(#v_nzfh)" stroke="none" stroke-width="0" />
<text x="588.80" y="65.33" font-size="3.70" font-weight="bold" fill="#2a2a2a" text-anchor="middle" >NZF2</text>
<text x="633.00" y="66.40" font-size="6.8" font-weight="bold" fill="#111" text-anchor="middle" >No</text>
<text x="666.60" y="66.40" font-size="6.8" font-weight="bold" fill="#111" text-anchor="middle" >Sup3f</text>
<text x="362.70" y="84.40" font-size="6.92" font-weight="bold" fill="#111" text-anchor="start" textLength="17.70" lengthAdjust="spacingAndGlyphs" >1-487</text>
<line x1="380.60" y1="82.00" x2="383.70" y2="82.00" stroke="#000" stroke-width="1.3" />
<rect x="383.70" y="78.40" width="35.30" height="7.20" fill="url(#h_kd)" stroke="none" stroke-width="0" />
<rect x="383.70" y="78.40" width="35.30" height="7.20" fill="url(#v_kd)" stroke="none" stroke-width="0" />
<text x="401.35" y="84.02" font-size="5.60" font-weight="bold" fill="#2a2a2a" text-anchor="middle" >KD</text>
<polygon points="391.40,76.30 392.01,77.76 393.59,77.89 392.38,78.92 392.75,80.46 391.40,79.63 390.05,80.46 390.42,78.92 389.21,77.89 390.79,77.76" fill="#f02a2a"/>
<text x="387.20" y="76.40" font-size="3.20" font-weight="bold" fill="#111" text-anchor="start" textLength="9.40" lengthAdjust="spacingAndGlyphs" >K59R</text>
<line x1="419.00" y1="82.00" x2="436.10" y2="82.00" stroke="#000" stroke-width="1.4" />
<rect x="436.10" y="78.40" width="21.50" height="7.20" fill="url(#h_sarah)" stroke="none" stroke-width="0" />
<rect x="436.10" y="78.40" width="21.50" height="7.20" fill="url(#v_sarah)" stroke="#e6a0cc" stroke-width="0.4" />
<text x="446.85" y="84.02" font-size="5.60" font-weight="bold" fill="#2a2a2a" text-anchor="middle" >SARAH</text>
<line x1="457.60" y1="82.00" x2="459.30" y2="82.00" stroke="#000" stroke-width="1.3" />
<text x="467.10" y="84.40" font-size="7.22" font-weight="bold" fill="#111" text-anchor="start" textLength="26.50" lengthAdjust="spacingAndGlyphs" >480-639</text>
<rect x="498.00" y="78.40" width="27.70" height="7.20" fill="url(#h_uba)" stroke="none" stroke-width="0" />
<rect x="498.00" y="78.40" width="27.70" height="7.20" fill="url(#v_uba)" stroke="none" stroke-width="0" />
<text x="511.85" y="84.09" font-size="5.80" font-weight="bold" fill="#2a2a2a" text-anchor="middle" >UBA</text>
<text x="633.00" y="84.40" font-size="6.8" font-weight="bold" fill="#111" text-anchor="middle" >No</text>
<text x="666.60" y="84.40" font-size="6.8" font-weight="bold" fill="#111" text-anchor="middle" >Sup3g</text>
<text x="362.70" y="102.40" font-size="6.92" font-weight="bold" fill="#111" text-anchor="start" textLength="17.70" lengthAdjust="spacingAndGlyphs" >1-487</text>
<line x1="380.60" y1="100.00" x2="383.70" y2="100.00" stroke="#000" stroke-width="1.3" />
<rect x="383.70" y="96.40" width="35.30" height="7.20" fill="url(#h_kd)" stroke="none" stroke-width="0" />
<rect x="383.70" y="96.40" width="35.30" height="7.20" fill="url(#v_kd)" stroke="none" stroke-width="0" />
<text x="401.35" y="102.02" font-size="5.60" font-weight="bold" fill="#2a2a2a" text-anchor="middle" >KD</text>
<polygon points="391.40,94.30 392.01,95.76 393.59,95.89 392.38,96.92 392.75,98.46 391.40,97.63 390.05,98.46 390.42,96.92 389.21,95.89 390.79,95.76" fill="#f02a2a"/>
<text x="387.20" y="94.40" font-size="3.20" font-weight="bold" fill="#111" text-anchor="start" textLength="9.40" lengthAdjust="spacingAndGlyphs" >K59R</text>
<line x1="419.00" y1="100.00" x2="436.10" y2="100.00" stroke="#000" stroke-width="1.4" />
<rect x="436.10" y="96.40" width="21.50" height="7.20" fill="url(#h_sarah)" stroke="none" stroke-width="0" />
<rect x="436.10" y="96.40" width="21.50" height="7.20" fill="url(#v_sarah)" stroke="#e6a0cc" stroke-width="0.4" />
<text x="446.85" y="102.02" font-size="5.60" font-weight="bold" fill="#2a2a2a" text-anchor="middle" >SARAH</text>
<line x1="457.60" y1="100.00" x2="459.30" y2="100.00" stroke="#000" stroke-width="1.3" />
<text x="467.10" y="102.40" font-size="7.22" font-weight="bold" fill="#111" text-anchor="start" textLength="26.50" lengthAdjust="spacingAndGlyphs" >639-698</text>
<rect x="498.30" y="96.40" width="11.30" height="7.20" fill="url(#h_hinge)" stroke="none" stroke-width="0" />
<rect x="498.30" y="96.40" width="11.30" height="7.20" fill="url(#v_hinge)" stroke="none" stroke-width="0" />
<text x="503.95" y="101.33" font-size="3.70" font-weight="bold" fill="#2a2a2a" text-anchor="middle" >hinge</text>
<text x="633.00" y="102.40" font-size="6.8" font-weight="bold" fill="#111" text-anchor="middle" >No</text>
<text x="666.60" y="102.40" font-size="6.8" font-weight="bold" fill="#111" text-anchor="middle" >Sup3h</text>
<text x="362.70" y="119.60" font-size="6.92" font-weight="bold" fill="#111" text-anchor="start" textLength="17.70" lengthAdjust="spacingAndGlyphs" >1-326</text>
<line x1="380.60" y1="117.20" x2="383.70" y2="117.20" stroke="#000" stroke-width="1.3" />
<rect x="383.70" y="113.60" width="35.30" height="7.20" fill="url(#h_kd)" stroke="none" stroke-width="0" />
<rect x="383.70" y="113.60" width="35.30" height="7.20" fill="url(#v_kd)" stroke="none" stroke-width="0" />
<text x="401.35" y="119.22" font-size="5.60" font-weight="bold" fill="#2a2a2a" text-anchor="middle" >KD</text>
<polygon points="391.40,111.50 392.01,112.96 393.59,113.09 392.38,114.12 392.75,115.66 391.40,114.83 390.05,115.66 390.42,114.12 389.21,113.09 390.79,112.96" fill="#f02a2a"/>
<text x="387.20" y="111.60" font-size="3.20" font-weight="bold" fill="#111" text-anchor="start" textLength="9.40" lengthAdjust="spacingAndGlyphs" >K59R</text>
<line x1="419.00" y1="117.20" x2="421.20" y2="117.20" stroke="#000" stroke-width="1.3" />
<text x="467.10" y="119.60" font-size="7.08" font-weight="bold" fill="#111" text-anchor="start" textLength="29.90" lengthAdjust="spacingAndGlyphs" >697-1072</text>
<line x1="511.90" y1="117.20" x2="541.10" y2="117.20" stroke="#000" stroke-width="1.3" />
<rect x="498.10" y="113.60" width="13.80" height="7.20" fill="url(#h_ring)" stroke="none" stroke-width="0" />
<rect x="498.10" y="113.60" width="13.80" height="7.20" fill="url(#v_ring)" stroke="none" stroke-width="0" />
<text x="505.00" y="118.53" font-size="3.70" font-weight="bold" fill="#2a2a2a" text-anchor="middle" >RING1</text>
<rect x="515.30" y="113.60" width="8.70" height="7.20" fill="url(#h_ibr)" stroke="none" stroke-width="0" />
<rect x="515.30" y="113.60" width="8.70" height="7.20" fill="url(#v_ibr)" stroke="none" stroke-width="0" />
<text x="519.65" y="118.53" font-size="3.70" font-weight="bold" fill="#2a2a2a" text-anchor="middle" >IBR</text>
<rect x="526.90" y="113.60" width="12.60" height="7.20" fill="url(#h_ring)" stroke="none" stroke-width="0" />
<rect x="526.90" y="113.60" width="12.60" height="7.20" fill="url(#v_ring)" stroke="none" stroke-width="0" />
<text x="533.20" y="118.53" font-size="3.70" font-weight="bold" fill="#2a2a2a" text-anchor="middle" >RING2</text>
<rect x="541.10" y="113.60" width="34.60" height="7.20" fill="url(#h_ldd)" stroke="none" stroke-width="0" />
<rect x="541.10" y="113.60" width="34.60" height="7.20" fill="url(#v_ldd)" stroke="none" stroke-width="0" />
<text x="558.40" y="119.29" font-size="5.80" font-weight="bold" fill="#2a2a2a" text-anchor="middle" >LDD</text>
<text x="633.00" y="119.60" font-size="6.8" font-weight="bold" fill="#111" text-anchor="middle" >Yes</text>
<text x="666.60" y="119.60" font-size="6.8" font-weight="bold" fill="#111" text-anchor="middle" >Sup5a</text>
<text x="362.70" y="135.70" font-size="7.30" font-weight="bold" fill="#111" text-anchor="start" textLength="26.80" lengthAdjust="spacingAndGlyphs" >327-487</text>
<line x1="420.00" y1="133.30" x2="436.10" y2="133.30" stroke="#000" stroke-width="1.4" />
<rect x="436.10" y="129.70" width="21.50" height="7.20" fill="url(#h_sarah)" stroke="none" stroke-width="0" />
<rect x="436.10" y="129.70" width="21.50" height="7.20" fill="url(#v_sarah)" stroke="#e6a0cc" stroke-width="0.4" />
<text x="446.85" y="135.32" font-size="5.60" font-weight="bold" fill="#2a2a2a" text-anchor="middle" >SARAH</text>
<line x1="457.60" y1="133.30" x2="459.30" y2="133.30" stroke="#000" stroke-width="1.3" />
<text x="467.10" y="135.70" font-size="7.08" font-weight="bold" fill="#111" text-anchor="start" textLength="29.90" lengthAdjust="spacingAndGlyphs" >697-1072</text>
<line x1="511.90" y1="133.30" x2="541.10" y2="133.30" stroke="#000" stroke-width="1.3" />
<rect x="498.10" y="129.70" width="13.80" height="7.20" fill="url(#h_ring)" stroke="none" stroke-width="0" />
<rect x="498.10" y="129.70" width="13.80" height="7.20" fill="url(#v_ring)" stroke="none" stroke-width="0" />
<text x="505.00" y="134.63" font-size="3.70" font-weight="bold" fill="#2a2a2a" text-anchor="middle" >RING1</text>
<rect x="515.30" y="129.70" width="8.70" height="7.20" fill="url(#h_ibr)" stroke="none" stroke-width="0" />
<rect x="515.30" y="129.70" width="8.70" height="7.20" fill="url(#v_ibr)" stroke="none" stroke-width="0" />
<text x="519.65" y="134.63" font-size="3.70" font-weight="bold" fill="#2a2a2a" text-anchor="middle" >IBR</text>
<rect x="526.90" y="129.70" width="12.60" height="7.20" fill="url(#h_ring)" stroke="none" stroke-width="0" />
<rect x="526.90" y="129.70" width="12.60" height="7.20" fill="url(#v_ring)" stroke="none" stroke-width="0" />
<text x="533.20" y="134.63" font-size="3.70" font-weight="bold" fill="#2a2a2a" text-anchor="middle" >RING2</text>
<rect x="541.10" y="129.70" width="34.60" height="7.20" fill="url(#h_ldd)" stroke="none" stroke-width="0" />
<rect x="541.10" y="129.70" width="34.60" height="7.20" fill="url(#v_ldd)" stroke="none" stroke-width="0" />
<text x="558.40" y="135.39" font-size="5.80" font-weight="bold" fill="#2a2a2a" text-anchor="middle" >LDD</text>
<text x="633.00" y="135.70" font-size="6.8" font-weight="bold" fill="#111" text-anchor="middle" >No</text>
<text x="666.60" y="135.70" font-size="6.8" font-weight="bold" fill="#111" text-anchor="middle" >Sup5b</text>
<text x="362.70" y="151.60" font-size="6.92" font-weight="bold" fill="#111" text-anchor="start" textLength="17.70" lengthAdjust="spacingAndGlyphs" >1-326</text>
<line x1="380.60" y1="149.20" x2="383.70" y2="149.20" stroke="#000" stroke-width="1.3" />
<rect x="383.70" y="145.60" width="35.30" height="7.20" fill="url(#h_kd)" stroke="none" stroke-width="0" />
<rect x="383.70" y="145.60" width="35.30" height="7.20" fill="url(#v_kd)" stroke="none" stroke-width="0" />
<text x="401.35" y="151.22" font-size="5.60" font-weight="bold" fill="#2a2a2a" text-anchor="middle" >KD</text>
<polygon points="391.40,143.50 392.01,144.96 393.59,145.09 392.38,146.12 392.75,147.66 391.40,146.83 390.05,147.66 390.42,146.12 389.21,145.09 390.79,144.96" fill="#f02a2a"/>
<text x="387.20" y="143.60" font-size="3.20" font-weight="bold" fill="#111" text-anchor="start" textLength="9.40" lengthAdjust="spacingAndGlyphs" >K59R</text>
<line x1="419.00" y1="149.20" x2="421.20" y2="149.20" stroke="#000" stroke-width="1.3" />
<text x="467.10" y="151.60" font-size="7.22" font-weight="bold" fill="#111" text-anchor="start" textLength="26.50" lengthAdjust="spacingAndGlyphs" >697-852</text>
<line x1="511.40" y1="149.20" x2="525.00" y2="149.20" stroke="#000" stroke-width="1.3" />
<rect x="497.00" y="145.60" width="14.40" height="7.20" fill="url(#h_ring)" stroke="none" stroke-width="0" />
<rect x="497.00" y="145.60" width="14.40" height="7.20" fill="url(#v_ring)" stroke="none" stroke-width="0" />
<text x="504.20" y="150.53" font-size="3.70" font-weight="bold" fill="#2a2a2a" text-anchor="middle" >RING1</text>
<rect x="514.40" y="145.60" width="8.50" height="7.20" fill="url(#h_ibr)" stroke="none" stroke-width="0" />
<rect x="514.40" y="145.60" width="8.50" height="7.20" fill="url(#v_ibr)" stroke="none" stroke-width="0" />
<text x="518.65" y="150.53" font-size="3.70" font-weight="bold" fill="#2a2a2a" text-anchor="middle" >IBR</text>
<text x="633.00" y="151.60" font-size="6.8" font-weight="bold" fill="#111" text-anchor="middle" >No</text>
<text x="666.60" y="151.60" font-size="6.8" font-weight="bold" fill="#111" text-anchor="middle" >Sup5c</text>
<text x="362.70" y="167.80" font-size="6.92" font-weight="bold" fill="#111" text-anchor="start" textLength="17.70" lengthAdjust="spacingAndGlyphs" >1-326</text>
<line x1="380.60" y1="165.40" x2="383.70" y2="165.40" stroke="#000" stroke-width="1.3" />
<rect x="383.70" y="161.80" width="35.30" height="7.20" fill="url(#h_kd)" stroke="none" stroke-width="0" />
<rect x="383.70" y="161.80" width="35.30" height="7.20" fill="url(#v_kd)" stroke="none" stroke-width="0" />
<text x="401.35" y="167.42" font-size="5.60" font-weight="bold" fill="#2a2a2a" text-anchor="middle" >KD</text>
<polygon points="391.40,159.70 392.01,161.16 393.59,161.29 392.38,162.32 392.75,163.86 391.40,163.03 390.05,163.86 390.42,162.32 389.21,161.29 390.79,161.16" fill="#f02a2a"/>
<text x="387.20" y="159.80" font-size="3.20" font-weight="bold" fill="#111" text-anchor="start" textLength="9.40" lengthAdjust="spacingAndGlyphs" >K59R</text>
<line x1="419.00" y1="165.40" x2="421.20" y2="165.40" stroke="#000" stroke-width="1.3" />
<text x="467.10" y="167.80" font-size="7.08" font-weight="bold" fill="#111" text-anchor="start" textLength="29.90" lengthAdjust="spacingAndGlyphs" >854-1072</text>
<line x1="540.00" y1="165.40" x2="541.80" y2="165.40" stroke="#000" stroke-width="1.3" />
<rect x="527.30" y="161.80" width="12.70" height="7.20" fill="url(#h_ring)" stroke="none" stroke-width="0" />
<rect x="527.30" y="161.80" width="12.70" height="7.20" fill="url(#v_ring)" stroke="none" stroke-width="0" />
<text x="533.65" y="166.73" font-size="3.70" font-weight="bold" fill="#2a2a2a" text-anchor="middle" >RING2</text>
<rect x="541.80" y="161.80" width="34.40" height="7.20" fill="url(#h_ldd)" stroke="none" stroke-width="0" />
<rect x="541.80" y="161.80" width="34.40" height="7.20" fill="url(#v_ldd)" stroke="none" stroke-width="0" />
<text x="559.00" y="167.49" font-size="5.80" font-weight="bold" fill="#2a2a2a" text-anchor="middle" >LDD</text>
<text x="633.00" y="167.80" font-size="6.8" font-weight="bold" fill="#111" text-anchor="middle" >Yes</text>
<text x="666.60" y="167.80" font-size="6.8" font-weight="bold" fill="#111" text-anchor="middle" >Fig1c</text>
<text x="0.50" y="194.20" font-size="18" font-weight="normal" fill="#000" text-anchor="start" >c</text>
<line x1="65.00" y1="191.50" x2="68.30" y2="191.50" stroke="#000" stroke-width="1.0" />
<rect x="68.30" y="186.15" width="51.90" height="10.70" fill="url(#h_kd)" stroke="none" stroke-width="0" />
<rect x="68.30" y="186.15" width="51.90" height="10.70" fill="url(#v_kd)" stroke="none" stroke-width="0" />
<text x="94.25" y="194.56" font-size="8.50" font-weight="bold" fill="#2a2a2a" text-anchor="middle" >KD</text>
<line x1="120.20" y1="191.50" x2="122.20" y2="191.50" stroke="#000" stroke-width="1.0" />
<polygon points="78.10,183.80 78.84,185.58 80.76,185.73 79.30,186.99 79.75,188.87 78.10,187.86 76.45,188.87 76.90,186.99 75.44,185.73 77.36,185.58" fill="#f02a2a"/>
<text x="70.80" y="184.00" font-size="5.98" font-weight="bold" fill="#111" text-anchor="start" textLength="15.30" lengthAdjust="spacingAndGlyphs" >K59R</text>
<line x1="128.90" y1="191.20" x2="139.80" y2="191.20" stroke="#000" stroke-width="1.1" />
<line x1="134.30" y1="185.90" x2="134.30" y2="196.40" stroke="#000" stroke-width="1.1" />
<rect x="147.40" y="185.70" width="19.00" height="11.20" fill="url(#h_ring)" stroke="none" stroke-width="0" />
<rect x="147.40" y="185.70" width="19.00" height="11.20" fill="url(#v_ring)" stroke="none" stroke-width="0" />
<text x="156.90" y="192.92" font-size="4.50" font-weight="bold" fill="#2a2a2a" text-anchor="middle" >RING2</text>
<line x1="166.40" y1="191.30" x2="169.20" y2="191.30" stroke="#000" stroke-width="1.0" />
<rect x="169.20" y="185.70" width="52.80" height="11.20" fill="url(#h_ldd)" stroke="none" stroke-width="0" />
<rect x="169.20" y="185.70" width="52.80" height="11.20" fill="url(#v_ldd)" stroke="none" stroke-width="0" />
<text x="195.60" y="194.54" font-size="9.00" font-weight="bold" fill="#2a2a2a" text-anchor="middle" >LDD</text>
<rect x="30.00" y="201.30" width="227.40" height="167.30" fill="none" stroke="#111" stroke-width="1.2" />
<line x1="30.00" y1="368.60" x2="30.00" y2="371.60" stroke="#111" stroke-width="1.0" />
<text x="30.00" y="379.60" font-size="7" font-weight="bold" fill="#111" text-anchor="middle" >8</text>
<line x1="48.95" y1="368.60" x2="48.95" y2="370.40" stroke="#111" stroke-width="0.9" />
<line x1="67.90" y1="368.60" x2="67.90" y2="371.60" stroke="#111" stroke-width="1.0" />
<text x="67.90" y="379.60" font-size="7" font-weight="bold" fill="#111" text-anchor="middle" >9</text>
<line x1="86.85" y1="368.60" x2="86.85" y2="370.40" stroke="#111" stroke-width="0.9" />
<line x1="105.80" y1="368.60" x2="105.80" y2="371.60" stroke="#111" stroke-width="1.0" />
<text x="105.80" y="379.60" font-size="7" font-weight="bold" fill="#111" text-anchor="middle" >10</text>
<line x1="124.75" y1="368.60" x2="124.75" y2="370.40" stroke="#111" stroke-width="0.9" />
<line x1="143.70" y1="368.60" x2="143.70" y2="371.60" stroke="#111" stroke-width="1.0" />
<text x="143.70" y="379.60" font-size="7" font-weight="bold" fill="#111" text-anchor="middle" >11</text>
<line x1="162.65" y1="368.60" x2="162.65" y2="370.40" stroke="#111" stroke-width="0.9" />
<line x1="181.60" y1="368.60" x2="181.60" y2="371.60" stroke="#111" stroke-width="1.0" />
<text x="181.60" y="379.60" font-size="7" font-weight="bold" fill="#111" text-anchor="middle" >12</text>
<line x1="200.55" y1="368.60" x2="200.55" y2="370.40" stroke="#111" stroke-width="0.9" />
<line x1="219.50" y1="368.60" x2="219.50" y2="371.60" stroke="#111" stroke-width="1.0" />
<text x="219.50" y="379.60" font-size="7" font-weight="bold" fill="#111" text-anchor="middle" >13</text>
<line x1="238.45" y1="368.60" x2="238.45" y2="370.40" stroke="#111" stroke-width="0.9" />
<line x1="257.40" y1="368.60" x2="257.40" y2="371.60" stroke="#111" stroke-width="1.0" />
<text x="257.40" y="379.60" font-size="7" font-weight="bold" fill="#111" text-anchor="middle" >14</text>
<line x1="27.00" y1="368.60" x2="30.00" y2="368.60" stroke="#111" stroke-width="1.0" />
<text x="25.70" y="371.10" font-size="7" font-weight="bold" fill="#111" text-anchor="end" >0</text>
<line x1="27.00" y1="331.40" x2="30.00" y2="331.40" stroke="#111" stroke-width="1.0" />
<text x="25.70" y="333.90" font-size="7" font-weight="bold" fill="#111" text-anchor="end" >40</text>
<line x1="27.00" y1="294.20" x2="30.00" y2="294.20" stroke="#111" stroke-width="1.0" />
<text x="25.70" y="296.70" font-size="7" font-weight="bold" fill="#111" text-anchor="end" >80</text>
<line x1="27.00" y1="257.00" x2="30.00" y2="257.00" stroke="#111" stroke-width="1.0" />
<text x="25.70" y="259.50" font-size="7" font-weight="bold" fill="#111" text-anchor="end" >120</text>
<line x1="27.00" y1="219.80" x2="30.00" y2="219.80" stroke="#111" stroke-width="1.0" />
<text x="25.70" y="222.30" font-size="7" font-weight="bold" fill="#111" text-anchor="end" >160</text>
<line x1="28.20" y1="350.00" x2="30.00" y2="350.00" stroke="#111" stroke-width="0.9" />
<line x1="28.20" y1="312.80" x2="30.00" y2="312.80" stroke="#111" stroke-width="0.9" />
<line x1="28.20" y1="275.60" x2="30.00" y2="275.60" stroke="#111" stroke-width="0.9" />
<line x1="28.20" y1="238.40" x2="30.00" y2="238.40" stroke="#111" stroke-width="0.9" />
<text x="102.80" y="388.80" font-size="8.71" font-weight="bold" fill="#111" text-anchor="start" textLength="81.10" lengthAdjust="spacingAndGlyphs" >Elution Volume (ml)</text>
<text transform="translate(9.6,284) rotate(-90)" x="0" y="0" font-size="8" font-weight="bold" fill="#111" text-anchor="middle" textLength="49" lengthAdjust="spacingAndGlyphs">A280 (mAU)</text>
<path d="M30.00,368.60 L30.57,368.60 L31.14,368.60 L31.71,368.60 L32.27,368.60 L32.84,368.60 L33.41,368.60 L33.98,368.60 L34.55,368.60 L35.12,368.60 L35.69,368.60 L36.25,368.60 L36.82,368.60 L37.39,368.60 L37.96,368.60 L38.53,368.60 L39.10,368.60 L39.66,368.60 L40.23,368.59 L40.80,368.59 L41.37,368.59 L41.94,368.59 L42.51,368.59 L43.08,368.58 L43.64,368.58 L44.21,368.58 L44.78,368.57 L45.35,368.57 L45.92,368.56 L46.49,368.55 L47.05,368.54 L47.62,368.53 L48.19,368.52 L48.76,368.50 L49.33,368.48 L49.90,368.46 L50.47,368.44 L51.03,368.41 L51.60,368.38 L52.17,368.34 L52.74,368.30 L53.31,368.25 L53.88,368.20 L54.45,368.14 L55.01,368.07 L55.58,367.99 L56.15,367.91 L56.72,367.82 L57.29,367.71 L57.86,367.60 L58.42,367.48 L58.99,367.34 L59.56,367.20 L60.13,367.04 L60.70,366.87 L61.27,366.69 L61.84,366.49 L62.40,366.29 L62.97,366.07 L63.54,365.84 L64.11,365.59 L64.68,365.34 L65.25,365.08 L65.82,364.81 L66.38,364.53 L66.95,364.24 L67.52,363.95 L68.09,363.66 L68.66,363.36 L69.23,363.07 L69.80,362.78 L70.36,362.49 L70.93,362.21 L71.50,361.93 L72.07,361.67 L72.64,361.42 L73.21,361.18 L73.77,360.96 L74.34,360.75 L74.91,360.57 L75.48,360.40 L76.05,360.26 L76.62,360.14 L77.19,360.04 L77.75,359.96 L78.32,359.91 L78.89,359.87 L79.46,359.85 L80.03,359.85 L80.60,359.86 L81.16,359.88 L81.73,359.91 L82.30,359.93 L82.87,359.94 L83.44,359.93 L84.01,359.89 L84.58,359.81 L85.14,359.68 L85.71,359.47 L86.28,359.16 L86.85,358.74 L87.42,358.18 L87.99,357.46 L88.56,356.53 L89.12,355.38 L89.69,353.97 L90.26,352.26 L90.83,350.22 L91.40,347.82 L91.97,345.02 L92.53,341.81 L93.10,338.17 L93.67,334.08 L94.24,329.54 L94.81,324.57 L95.38,319.19 L95.95,313.44 L96.51,307.37 L97.08,301.05 L97.65,294.57 L98.22,288.02 L98.79,281.50 L99.36,275.13 L99.93,269.02 L100.49,263.30 L101.06,258.08 L101.63,253.47 L102.20,249.56 L102.77,246.44 L103.34,244.16 L103.90,242.76 L104.47,241.77 L105.04,240.94 L105.61,240.28 L106.18,239.79 L106.75,239.48 L107.32,239.37 L107.88,239.45 L108.45,239.73 L109.02,240.21 L109.59,240.89 L110.16,241.77 L110.73,242.85 L111.30,244.11 L111.86,245.56 L112.43,247.18 L113.00,248.97 L113.57,250.91 L114.14,253.00 L114.71,255.21 L115.27,257.55 L115.84,259.98 L116.41,262.51 L116.98,265.10 L117.55,267.75 L118.12,270.45 L118.69,273.17 L119.25,275.90 L119.82,278.63 L120.39,281.35 L120.96,284.03 L121.53,286.68 L122.10,289.27 L122.67,291.80 L123.23,294.26 L123.80,296.64 L124.37,298.93 L124.94,301.13 L125.51,303.23 L126.08,305.22 L126.65,307.11 L127.21,308.89 L127.78,310.56 L128.35,312.11 L128.92,313.56 L129.49,314.88 L130.06,316.10 L130.62,317.20 L131.19,318.19 L131.76,319.07 L132.33,319.84 L132.90,320.51 L133.47,321.07 L134.04,321.53 L134.60,321.89 L135.17,322.16 L135.74,322.34 L136.31,322.43 L136.88,322.43 L137.45,322.35 L138.01,322.19 L138.58,321.95 L139.15,321.65 L139.72,321.27 L140.29,320.83 L140.86,320.34 L141.43,319.78 L141.99,319.17 L142.56,318.52 L143.13,317.83 L143.70,317.09 L144.27,316.32 L144.84,315.52 L145.41,314.70 L145.97,313.86 L146.54,313.00 L147.11,312.13 L147.68,311.25 L148.25,310.38 L148.82,309.51 L149.38,308.65 L149.95,307.80 L150.52,306.97 L151.09,306.16 L151.66,305.38 L152.23,304.63 L152.80,303.91 L153.36,303.24 L153.93,302.61 L154.50,302.02 L155.07,301.49 L155.64,301.01 L156.21,300.59 L156.78,300.23 L157.34,299.93 L157.91,299.69 L158.48,299.52 L159.05,299.42 L159.62,299.39 L160.19,299.43 L160.75,299.54 L161.32,299.72 L161.89,299.98 L162.46,300.32 L163.03,300.73 L163.60,301.21 L164.17,301.76 L164.73,302.39 L165.30,303.08 L165.87,303.84 L166.44,304.67 L167.01,305.56 L167.58,306.50 L168.15,307.51 L168.71,308.57 L169.28,309.68 L169.85,310.83 L170.42,312.04 L170.99,313.28 L171.56,314.55 L172.12,315.87 L172.69,317.21 L173.26,318.57 L173.83,319.96 L174.40,321.36 L174.97,322.78 L175.54,324.21 L176.10,325.65 L176.67,327.09 L177.24,328.52 L177.81,329.96 L178.38,331.39 L178.95,332.81 L179.52,334.21 L180.08,335.60 L180.65,336.97 L181.22,338.32 L181.79,339.65 L182.36,340.96 L182.93,342.23 L183.50,343.48 L184.06,344.70 L184.63,345.88 L185.20,347.03 L185.77,348.15 L186.34,349.24 L186.91,350.28 L187.47,351.30 L188.04,352.27 L188.61,353.21 L189.18,354.12 L189.75,354.98 L190.32,355.81 L190.89,356.61 L191.45,357.36 L192.02,358.09 L192.59,358.77 L193.16,359.43 L193.73,360.05 L194.30,360.64 L194.86,361.19 L195.43,361.72 L196.00,362.22 L196.57,362.69 L197.14,363.13 L197.71,363.54 L198.28,363.93 L198.84,364.29 L199.41,364.63 L199.98,364.95 L200.55,365.24 L201.12,365.52 L201.69,365.78 L202.26,366.01 L202.82,366.23 L203.39,366.44 L203.96,366.63 L204.53,366.80 L205.10,366.97 L205.67,367.11 L206.24,367.25 L206.80,367.38 L207.37,367.49 L207.94,367.60 L208.51,367.69 L209.08,367.78 L209.65,367.86 L210.21,367.94 L210.78,368.00 L211.35,368.06 L211.92,368.12 L212.49,368.17 L213.06,368.21 L213.63,368.26 L214.19,368.29 L214.76,368.33 L215.33,368.36 L215.90,368.38 L216.47,368.41 L217.04,368.43 L217.60,368.45 L218.17,368.47 L218.74,368.48 L219.31,368.50 L219.88,368.51 L220.45,368.52 L221.02,368.53 L221.58,368.54 L222.15,368.54 L222.72,368.55 L223.29,368.56 L223.86,368.56 L224.43,368.57 L225.00,368.57 L225.56,368.58 L226.13,368.58 L226.70,368.58 L227.27,368.58 L227.84,368.59 L228.41,368.59 L228.97,368.59 L229.54,368.59 L230.11,368.59 L230.68,368.59 L231.25,368.59 L231.82,368.59 L232.39,368.60 L232.95,368.60 L233.52,368.60 L234.09,368.60 L234.66,368.60 L235.23,368.60 L235.80,368.60 L236.37,368.60 L236.93,368.60 L237.50,368.60 L238.07,368.60 L238.64,368.60 L239.21,368.60 L239.78,368.60 L240.34,368.60 L240.91,368.60 L241.48,368.60 L242.05,368.60 L242.62,368.60 L243.19,368.60 L243.76,368.60 L244.32,368.60 L244.89,368.60 L245.46,368.60 L246.03,368.60 L246.60,368.60 L247.17,368.60 L247.74,368.60 L248.30,368.60 L248.87,368.60 L249.44,368.60 L250.01,368.60 L250.58,368.60 L251.15,368.60 L251.71,368.60 L252.28,368.60 L252.85,368.60 L253.42,368.60 L253.99,368.60 L254.56,368.60 L255.13,368.60 L255.69,368.60 L256.26,368.60 L256.83,368.60 L257.40,368.60" fill="none" stroke="#111" stroke-width="1.3" stroke-linejoin="round" />
<path d="M30.00,368.60 L30.57,368.60 L31.14,368.60 L31.71,368.60 L32.27,368.60 L32.84,368.60 L33.41,368.60 L33.98,368.60 L34.55,368.60 L35.12,368.60 L35.69,368.60 L36.25,368.60 L36.82,368.60 L37.39,368.60 L37.96,368.60 L38.53,368.60 L39.10,368.60 L39.66,368.60 L40.23,368.60 L40.80,368.60 L41.37,368.60 L41.94,368.60 L42.51,368.60 L43.08,368.60 L43.64,368.60 L44.21,368.59 L44.78,368.59 L45.35,368.59 L45.92,368.59 L46.49,368.59 L47.05,368.58 L47.62,368.58 L48.19,368.58 L48.76,368.57 L49.33,368.56 L49.90,368.56 L50.47,368.55 L51.03,368.54 L51.60,368.53 L52.17,368.51 L52.74,368.50 L53.31,368.48 L53.88,368.46 L54.45,368.43 L55.01,368.41 L55.58,368.37 L56.15,368.34 L56.72,368.30 L57.29,368.26 L57.86,368.21 L58.42,368.15 L58.99,368.09 L59.56,368.02 L60.13,367.95 L60.70,367.87 L61.27,367.78 L61.84,367.69 L62.40,367.59 L62.97,367.48 L63.54,367.36 L64.11,367.24 L64.68,367.11 L65.25,366.98 L65.82,366.83 L66.38,366.69 L66.95,366.54 L67.52,366.38 L68.09,366.22 L68.66,366.06 L69.23,365.90 L69.80,365.73 L70.36,365.57 L70.93,365.41 L71.50,365.25 L72.07,365.10 L72.64,364.95 L73.21,364.81 L73.77,364.68 L74.34,364.55 L74.91,364.44 L75.48,364.33 L76.05,364.24 L76.62,364.15 L77.19,364.08 L77.75,364.02 L78.32,363.97 L78.89,363.93 L79.46,363.90 L80.03,363.88 L80.60,363.86 L81.16,363.85 L81.73,363.84 L82.30,363.83 L82.87,363.81 L83.44,363.79 L84.01,363.75 L84.58,363.68 L85.14,363.60 L85.71,363.48 L86.28,363.31 L86.85,363.10 L87.42,362.82 L87.99,362.46 L88.56,362.02 L89.12,361.48 L89.69,360.82 L90.26,360.03 L90.83,359.10 L91.40,357.99 L91.97,356.71 L92.53,355.22 L93.10,353.52 L93.67,351.60 L94.24,349.43 L94.81,347.00 L95.38,344.32 L95.95,341.38 L96.51,338.17 L97.08,334.71 L97.65,331.00 L98.22,327.06 L98.79,322.92 L99.36,318.60 L99.93,314.15 L100.49,309.59 L101.06,304.99 L101.63,300.39 L102.20,295.85 L102.77,291.42 L103.34,287.18 L103.90,283.16 L104.47,279.45 L105.04,276.08 L105.61,273.12 L106.18,270.61 L106.75,268.58 L107.32,267.07 L107.88,266.10 L108.45,265.63 L109.02,265.38 L109.59,265.27 L110.16,265.31 L110.73,265.49 L111.30,265.81 L111.86,266.26 L112.43,266.86 L113.00,267.58 L113.57,268.43 L114.14,269.40 L114.71,270.49 L115.27,271.69 L115.84,272.99 L116.41,274.39 L116.98,275.88 L117.55,277.45 L118.12,279.10 L118.69,280.81 L119.25,282.59 L119.82,284.42 L120.39,286.30 L120.96,288.21 L121.53,290.16 L122.10,292.13 L122.67,294.12 L123.23,296.12 L123.80,298.12 L124.37,300.12 L124.94,302.12 L125.51,304.10 L126.08,306.06 L126.65,308.00 L127.21,309.92 L127.78,311.81 L128.35,313.66 L128.92,315.48 L129.49,317.25 L130.06,318.99 L130.62,320.68 L131.19,322.33 L131.76,323.94 L132.33,325.49 L132.90,327.00 L133.47,328.47 L134.04,329.88 L134.60,331.25 L135.17,332.58 L135.74,333.85 L136.31,335.09 L136.88,336.28 L137.45,337.42 L138.01,338.53 L138.58,339.60 L139.15,340.62 L139.72,341.61 L140.29,342.57 L140.86,343.49 L141.43,344.38 L141.99,345.23 L142.56,346.06 L143.13,346.86 L143.70,347.63 L144.27,348.37 L144.84,349.10 L145.41,349.79 L145.97,350.47 L146.54,351.12 L147.11,351.76 L147.68,352.37 L148.25,352.97 L148.82,353.55 L149.38,354.12 L149.95,354.66 L150.52,355.19 L151.09,355.71 L151.66,356.21 L152.23,356.70 L152.80,357.18 L153.36,357.64 L153.93,358.09 L154.50,358.52 L155.07,358.95 L155.64,359.36 L156.21,359.76 L156.78,360.15 L157.34,360.52 L157.91,360.89 L158.48,361.24 L159.05,361.58 L159.62,361.92 L160.19,362.24 L160.75,362.55 L161.32,362.85 L161.89,363.13 L162.46,363.41 L163.03,363.68 L163.60,363.94 L164.17,364.19 L164.73,364.43 L165.30,364.65 L165.87,364.87 L166.44,365.08 L167.01,365.28 L167.58,365.48 L168.15,365.66 L168.71,365.84 L169.28,366.00 L169.85,366.16 L170.42,366.31 L170.99,366.46 L171.56,366.59 L172.12,366.72 L172.69,366.85 L173.26,366.96 L173.83,367.07 L174.40,367.18 L174.97,367.27 L175.54,367.37 L176.10,367.45 L176.67,367.53 L177.24,367.61 L177.81,367.68 L178.38,367.75 L178.95,367.81 L179.52,367.87 L180.08,367.93 L180.65,367.98 L181.22,368.03 L181.79,368.07 L182.36,368.12 L182.93,368.15 L183.50,368.19 L184.06,368.22 L184.63,368.26 L185.20,368.28 L185.77,368.31 L186.34,368.34 L186.91,368.36 L187.47,368.38 L188.04,368.40 L188.61,368.42 L189.18,368.43 L189.75,368.45 L190.32,368.46 L190.89,368.47 L191.45,368.49 L192.02,368.50 L192.59,368.51 L193.16,368.52 L193.73,368.52 L194.30,368.53 L194.86,368.54 L195.43,368.54 L196.00,368.55 L196.57,368.55 L197.14,368.56 L197.71,368.56 L198.28,368.57 L198.84,368.57 L199.41,368.57 L199.98,368.58 L200.55,368.58 L201.12,368.58 L201.69,368.58 L202.26,368.59 L202.82,368.59 L203.39,368.59 L203.96,368.59 L204.53,368.59 L205.10,368.59 L205.67,368.59 L206.24,368.59 L206.80,368.59 L207.37,368.59 L207.94,368.60 L208.51,368.60 L209.08,368.60 L209.65,368.60 L210.21,368.60 L210.78,368.60 L211.35,368.60 L211.92,368.60 L212.49,368.60 L213.06,368.60 L213.63,368.60 L214.19,368.60 L214.76,368.60 L215.33,368.60 L215.90,368.60 L216.47,368.60 L217.04,368.60 L217.60,368.60 L218.17,368.60 L218.74,368.60 L219.31,368.60 L219.88,368.60 L220.45,368.60 L221.02,368.60 L221.58,368.60 L222.15,368.60 L222.72,368.60 L223.29,368.60 L223.86,368.60 L224.43,368.60 L225.00,368.60 L225.56,368.60 L226.13,368.60 L226.70,368.60 L227.27,368.60 L227.84,368.60 L228.41,368.60 L228.97,368.60 L229.54,368.60 L230.11,368.60 L230.68,368.60 L231.25,368.60 L231.82,368.60 L232.39,368.60 L232.95,368.60 L233.52,368.60 L234.09,368.60 L234.66,368.60 L235.23,368.60 L235.80,368.60 L236.37,368.60 L236.93,368.60 L237.50,368.60 L238.07,368.60 L238.64,368.60 L239.21,368.60 L239.78,368.60 L240.34,368.60 L240.91,368.60 L241.48,368.60 L242.05,368.60 L242.62,368.60 L243.19,368.60 L243.76,368.60 L244.32,368.60 L244.89,368.60 L245.46,368.60 L246.03,368.60 L246.60,368.60 L247.17,368.60 L247.74,368.60 L248.30,368.60 L248.87,368.60 L249.44,368.60 L250.01,368.60 L250.58,368.60 L251.15,368.60 L251.71,368.60 L252.28,368.60 L252.85,368.60 L253.42,368.60 L253.99,368.60 L254.56,368.60 L255.13,368.60 L255.69,368.60 L256.26,368.60 L256.83,368.60 L257.40,368.60" fill="none" stroke="#f02a2a" stroke-width="1.3" stroke-linejoin="round" />
<path d="M30.00,368.52 L30.57,368.52 L31.14,368.51 L31.71,368.51 L32.27,368.50 L32.84,368.50 L33.41,368.49 L33.98,368.48 L34.55,368.47 L35.12,368.47 L35.69,368.46 L36.25,368.45 L36.82,368.44 L37.39,368.43 L37.96,368.42 L38.53,368.41 L39.10,368.40 L39.66,368.39 L40.23,368.37 L40.80,368.36 L41.37,368.35 L41.94,368.33 L42.51,368.32 L43.08,368.30 L43.64,368.28 L44.21,368.27 L44.78,368.25 L45.35,368.23 L45.92,368.21 L46.49,368.19 L47.05,368.17 L47.62,368.15 L48.19,368.12 L48.76,368.10 L49.33,368.07 L49.90,368.05 L50.47,368.02 L51.03,367.99 L51.60,367.96 L52.17,367.93 L52.74,367.90 L53.31,367.86 L53.88,367.83 L54.45,367.79 L55.01,367.75 L55.58,367.72 L56.15,367.68 L56.72,367.64 L57.29,367.59 L57.86,367.55 L58.42,367.50 L58.99,367.46 L59.56,367.41 L60.13,367.36 L60.70,367.31 L61.27,367.26 L61.84,367.20 L62.40,367.15 L62.97,367.09 L63.54,367.03 L64.11,366.97 L64.68,366.91 L65.25,366.85 L65.82,366.78 L66.38,366.72 L66.95,366.65 L67.52,366.58 L68.09,366.51 L68.66,366.44 L69.23,366.36 L69.80,366.29 L70.36,366.21 L70.93,366.13 L71.50,366.05 L72.07,365.97 L72.64,365.89 L73.21,365.81 L73.77,365.72 L74.34,365.64 L74.91,365.55 L75.48,365.46 L76.05,365.37 L76.62,365.28 L77.19,365.19 L77.75,365.10 L78.32,365.01 L78.89,364.92 L79.46,364.82 L80.03,364.73 L80.60,364.63 L81.16,364.54 L81.73,364.44 L82.30,364.34 L82.87,364.25 L83.44,364.15 L84.01,364.06 L84.58,363.96 L85.14,363.86 L85.71,363.77 L86.28,363.67 L86.85,363.57 L87.42,363.48 L87.99,363.38 L88.56,363.29 L89.12,363.20 L89.69,363.11 L90.26,363.01 L90.83,362.92 L91.40,362.84 L91.97,362.75 L92.53,362.66 L93.10,362.58 L93.67,362.49 L94.24,362.41 L94.81,362.33 L95.38,362.26 L95.95,362.18 L96.51,362.11 L97.08,362.03 L97.65,361.97 L98.22,361.90 L98.79,361.83 L99.36,361.77 L99.93,361.71 L100.49,361.66 L101.06,361.60 L101.63,361.55 L102.20,361.50 L102.77,361.46 L103.34,361.42 L103.90,361.38 L104.47,361.34 L105.04,361.31 L105.61,361.28 L106.18,361.25 L106.75,361.23 L107.32,361.21 L107.88,361.19 L108.45,361.18 L109.02,361.17 L109.59,361.16 L110.16,361.16 L110.73,361.16 L111.30,361.17 L111.86,361.20 L112.43,361.23 L113.00,361.27 L113.57,361.33 L114.14,361.39 L114.71,361.46 L115.27,361.54 L115.84,361.63 L116.41,361.73 L116.98,361.84 L117.55,361.95 L118.12,362.07 L118.69,362.20 L119.25,362.34 L119.82,362.48 L120.39,362.62 L120.96,362.77 L121.53,362.93 L122.10,363.08 L122.67,363.24 L123.23,363.41 L123.80,363.57 L124.37,363.73 L124.94,363.90 L125.51,364.06 L126.08,364.22 L126.65,364.38 L127.21,364.54 L127.78,364.69 L128.35,364.84 L128.92,364.99 L129.49,365.12 L130.06,365.25 L130.62,365.37 L131.19,365.48 L131.76,365.58 L132.33,365.66 L132.90,365.73 L133.47,365.77 L134.04,365.80 L134.60,365.81 L135.17,365.79 L135.74,365.74 L136.31,365.66 L136.88,365.55 L137.45,365.39 L138.01,365.19 L138.58,364.94 L139.15,364.63 L139.72,364.26 L140.29,363.83 L140.86,363.32 L141.43,362.73 L141.99,362.06 L142.56,361.29 L143.13,360.42 L143.70,359.45 L144.27,358.36 L144.84,357.15 L145.41,355.82 L145.97,354.35 L146.54,352.74 L147.11,351.00 L147.68,349.10 L148.25,347.06 L148.82,344.88 L149.38,342.54 L149.95,340.06 L150.52,337.44 L151.09,334.68 L151.66,331.80 L152.23,328.79 L152.80,325.68 L153.36,322.48 L153.93,319.19 L154.50,315.85 L155.07,312.46 L155.64,309.06 L156.21,305.65 L156.78,302.27 L157.34,298.94 L157.91,295.68 L158.48,292.53 L159.05,289.49 L159.62,286.61 L160.19,283.91 L160.75,281.41 L161.32,279.12 L161.89,277.08 L162.46,275.30 L163.03,273.80 L163.60,272.58 L164.17,271.67 L164.73,271.07 L165.30,270.79 L165.87,270.82 L166.44,271.17 L167.01,271.78 L167.58,272.56 L168.15,273.50 L168.71,274.59 L169.28,275.81 L169.85,277.16 L170.42,278.64 L170.99,280.21 L171.56,281.89 L172.12,283.65 L172.69,285.48 L173.26,287.37 L173.83,289.31 L174.40,291.29 L174.97,293.31 L175.54,295.34 L176.10,297.39 L176.67,299.45 L177.24,301.50 L177.81,303.54 L178.38,305.57 L178.95,307.59 L179.52,309.57 L180.08,311.54 L180.65,313.47 L181.22,315.37 L181.79,317.24 L182.36,319.07 L182.93,320.86 L183.50,322.62 L184.06,324.34 L184.63,326.02 L185.20,327.67 L185.77,329.27 L186.34,330.84 L186.91,332.37 L187.47,333.86 L188.04,335.31 L188.61,336.72 L189.18,338.10 L189.75,339.44 L190.32,340.75 L190.89,342.01 L191.45,343.24 L192.02,344.43 L192.59,345.59 L193.16,346.71 L193.73,347.80 L194.30,348.85 L194.86,349.86 L195.43,350.84 L196.00,351.78 L196.57,352.69 L197.14,353.57 L197.71,354.41 L198.28,355.21 L198.84,355.99 L199.41,356.73 L199.98,357.44 L200.55,358.11 L201.12,358.76 L201.69,359.37 L202.26,359.96 L202.82,360.52 L203.39,361.05 L203.96,361.55 L204.53,362.02 L205.10,362.47 L205.67,362.90 L206.24,363.30 L206.80,363.68 L207.37,364.03 L207.94,364.37 L208.51,364.68 L209.08,364.97 L209.65,365.25 L210.21,365.51 L210.78,365.75 L211.35,365.98 L211.92,366.19 L212.49,366.38 L213.06,366.56 L213.63,366.73 L214.19,366.89 L214.76,367.03 L215.33,367.17 L215.90,367.29 L216.47,367.41 L217.04,367.51 L217.60,367.61 L218.17,367.70 L218.74,367.78 L219.31,367.86 L219.88,367.93 L220.45,367.99 L221.02,368.05 L221.58,368.10 L222.15,368.15 L222.72,368.19 L223.29,368.23 L223.86,368.27 L224.43,368.30 L225.00,368.33 L225.56,368.36 L226.13,368.39 L226.70,368.41 L227.27,368.43 L227.84,368.45 L228.41,368.46 L228.97,368.48 L229.54,368.49 L230.11,368.50 L230.68,368.51 L231.25,368.52 L231.82,368.53 L232.39,368.54 L232.95,368.55 L233.52,368.55 L234.09,368.56 L234.66,368.56 L235.23,368.57 L235.80,368.57 L236.37,368.58 L236.93,368.58 L237.50,368.58 L238.07,368.58 L238.64,368.59 L239.21,368.59 L239.78,368.59 L240.34,368.59 L240.91,368.59 L241.48,368.59 L242.05,368.59 L242.62,368.59 L243.19,368.60 L243.76,368.60 L244.32,368.60 L244.89,368.60 L245.46,368.60 L246.03,368.60 L246.60,368.60 L247.17,368.60 L247.74,368.60 L248.30,368.60 L248.87,368.60 L249.44,368.60 L250.01,368.60 L250.58,368.60 L251.15,368.60 L251.71,368.60 L252.28,368.60 L252.85,368.60 L253.42,368.60 L253.99,368.60 L254.56,368.60 L255.13,368.60 L255.69,368.60 L256.26,368.60 L256.83,368.60 L257.40,368.60" fill="none" stroke="#1a1ae6" stroke-width="1.3" stroke-linejoin="round" />
<path d="M30.00,368.52 L30.57,368.52 L31.14,368.51 L31.71,368.51 L32.27,368.50 L32.84,368.50 L33.41,368.49 L33.98,368.48 L34.55,368.47 L35.12,368.47 L35.69,368.46 L36.25,368.45 L36.82,368.44 L37.39,368.43 L37.96,368.42 L38.53,368.41 L39.10,368.40 L39.66,368.39 L40.23,368.37 L40.80,368.36 L41.37,368.34 L41.94,368.33 L42.51,368.31 L43.08,368.30 L43.64,368.28 L44.21,368.26 L44.78,368.24 L45.35,368.22 L45.92,368.20 L46.49,368.18 L47.05,368.15 L47.62,368.12 L48.19,368.10 L48.76,368.07 L49.33,368.04 L49.90,368.00 L50.47,367.97 L51.03,367.93 L51.60,367.89 L52.17,367.84 L52.74,367.79 L53.31,367.74 L53.88,367.69 L54.45,367.63 L55.01,367.56 L55.58,367.49 L56.15,367.42 L56.72,367.34 L57.29,367.25 L57.86,367.16 L58.42,367.06 L58.99,366.95 L59.56,366.83 L60.13,366.71 L60.70,366.58 L61.27,366.44 L61.84,366.29 L62.40,366.13 L62.97,365.97 L63.54,365.79 L64.11,365.61 L64.68,365.42 L65.25,365.22 L65.82,365.02 L66.38,364.80 L66.95,364.58 L67.52,364.36 L68.09,364.13 L68.66,363.89 L69.23,363.66 L69.80,363.42 L70.36,363.18 L70.93,362.94 L71.50,362.71 L72.07,362.47 L72.64,362.24 L73.21,362.02 L73.77,361.80 L74.34,361.59 L74.91,361.39 L75.48,361.20 L76.05,361.01 L76.62,360.84 L77.19,360.68 L77.75,360.52 L78.32,360.38 L78.89,360.25 L79.46,360.12 L80.03,360.01 L80.60,359.89 L81.16,359.79 L81.73,359.68 L82.30,359.57 L82.87,359.46 L83.44,359.34 L84.01,359.20 L84.58,359.04 L85.14,358.86 L85.71,358.64 L86.28,358.38 L86.85,358.07 L87.42,357.70 L87.99,357.25 L88.56,356.71 L89.12,356.08 L89.69,355.33 L90.26,354.45 L90.83,353.42 L91.40,352.23 L91.97,350.85 L92.53,349.28 L93.10,347.50 L93.67,345.49 L94.24,343.24 L94.81,340.74 L95.38,337.98 L95.95,334.96 L96.51,331.68 L97.08,328.14 L97.65,324.36 L98.22,320.36 L98.79,316.15 L99.36,311.77 L99.93,307.26 L100.49,302.65 L101.06,297.99 L101.63,293.34 L102.20,288.75 L102.77,284.28 L103.34,279.99 L103.90,275.94 L104.47,272.19 L105.04,268.79 L105.61,265.80 L106.18,263.26 L106.75,261.21 L107.32,259.68 L107.88,258.69 L108.45,258.21 L109.02,257.95 L109.59,257.83 L110.16,257.87 L110.73,258.05 L111.30,258.38 L111.86,258.86 L112.43,259.49 L113.00,260.25 L113.57,261.16 L114.14,262.19 L114.71,263.35 L115.27,264.63 L115.84,266.02 L116.41,267.52 L116.98,269.12 L117.55,270.80 L118.12,272.57 L118.69,274.42 L119.25,276.33 L119.82,278.30 L120.39,280.32 L120.96,282.39 L121.53,284.49 L122.10,286.61 L122.67,288.76 L123.23,290.92 L123.80,293.09 L124.37,295.25 L124.94,297.41 L125.51,299.56 L126.08,301.69 L126.65,303.79 L127.21,305.86 L127.78,307.90 L128.35,309.90 L128.92,311.86 L129.49,313.77 L130.06,315.64 L130.62,317.45 L131.19,319.21 L131.76,320.91 L132.33,322.55 L132.90,324.13 L133.47,325.64 L134.04,327.09 L134.60,328.46 L135.17,329.77 L135.74,331.00 L136.31,332.15 L136.88,333.22 L137.45,334.21 L138.01,335.12 L138.58,335.93 L139.15,336.65 L139.72,337.27 L140.29,337.79 L140.86,338.21 L141.43,338.51 L141.99,338.69 L142.56,338.75 L143.13,338.68 L143.70,338.48 L144.27,338.14 L144.84,337.65 L145.41,337.01 L145.97,336.22 L146.54,335.27 L147.11,334.16 L147.68,332.88 L148.25,331.44 L148.82,329.83 L149.38,328.06 L149.95,326.12 L150.52,324.03 L151.09,321.79 L151.66,319.41 L152.23,316.89 L152.80,314.26 L153.36,311.51 L153.93,308.68 L154.50,305.77 L155.07,302.81 L155.64,299.81 L156.21,296.81 L156.78,293.82 L157.34,290.86 L157.91,287.97 L158.48,285.17 L159.05,282.48 L159.62,279.93 L160.19,277.55 L160.75,275.35 L161.32,273.37 L161.89,271.61 L162.46,270.11 L163.03,268.88 L163.60,267.92 L164.17,267.26 L164.73,266.90 L165.30,266.84 L165.87,267.09 L166.44,267.65 L167.01,268.47 L167.58,269.44 L168.15,270.56 L168.71,271.82 L169.28,273.21 L169.85,274.73 L170.42,276.35 L170.99,278.07 L171.56,279.88 L172.12,281.77 L172.69,283.72 L173.26,285.73 L173.83,287.78 L174.40,289.87 L174.97,291.98 L175.54,294.11 L176.10,296.25 L176.67,298.38 L177.24,300.51 L177.81,302.63 L178.38,304.72 L178.95,306.80 L179.52,308.85 L180.08,310.87 L180.65,312.85 L181.22,314.80 L181.79,316.71 L182.36,318.59 L182.93,320.42 L183.50,322.21 L184.06,323.97 L184.63,325.68 L185.20,327.35 L185.77,328.98 L186.34,330.57 L186.91,332.13 L187.47,333.64 L188.04,335.11 L188.61,336.54 L189.18,337.94 L189.75,339.29 L190.32,340.61 L190.89,341.89 L191.45,343.13 L192.02,344.33 L192.59,345.50 L193.16,346.63 L193.73,347.72 L194.30,348.78 L194.86,349.80 L195.43,350.78 L196.00,351.73 L196.57,352.65 L197.14,353.53 L197.71,354.37 L198.28,355.18 L198.84,355.96 L199.41,356.70 L199.98,357.41 L200.55,358.09 L201.12,358.74 L201.69,359.36 L202.26,359.94 L202.82,360.50 L203.39,361.03 L203.96,361.54 L204.53,362.01 L205.10,362.46 L205.67,362.89 L206.24,363.29 L206.80,363.67 L207.37,364.03 L207.94,364.36 L208.51,364.68 L209.08,364.97 L209.65,365.25 L210.21,365.51 L210.78,365.75 L211.35,365.97 L211.92,366.18 L212.49,366.38 L213.06,366.56 L213.63,366.73 L214.19,366.89 L214.76,367.03 L215.33,367.17 L215.90,367.29 L216.47,367.41 L217.04,367.51 L217.60,367.61 L218.17,367.70 L218.74,367.78 L219.31,367.86 L219.88,367.93 L220.45,367.99 L221.02,368.05 L221.58,368.10 L222.15,368.15 L222.72,368.19 L223.29,368.23 L223.86,368.27 L224.43,368.30 L225.00,368.33 L225.56,368.36 L226.13,368.39 L226.70,368.41 L227.27,368.43 L227.84,368.45 L228.41,368.46 L228.97,368.48 L229.54,368.49 L230.11,368.50 L230.68,368.51 L231.25,368.52 L231.82,368.53 L232.39,368.54 L232.95,368.55 L233.52,368.55 L234.09,368.56 L234.66,368.56 L235.23,368.57 L235.80,368.57 L236.37,368.58 L236.93,368.58 L237.50,368.58 L238.07,368.58 L238.64,368.59 L239.21,368.59 L239.78,368.59 L240.34,368.59 L240.91,368.59 L241.48,368.59 L242.05,368.59 L242.62,368.59 L243.19,368.60 L243.76,368.60 L244.32,368.60 L244.89,368.60 L245.46,368.60 L246.03,368.60 L246.60,368.60 L247.17,368.60 L247.74,368.60 L248.30,368.60 L248.87,368.60 L249.44,368.60 L250.01,368.60 L250.58,368.60 L251.15,368.60 L251.71,368.60 L252.28,368.60 L252.85,368.60 L253.42,368.60 L253.99,368.60 L254.56,368.60 L255.13,368.60 L255.69,368.60 L256.26,368.60 L256.83,368.60 L257.40,368.60" fill="none" stroke="#1e8a7a" stroke-width="1.1" stroke-linejoin="round" stroke-dasharray="2.2,1.6"/>
<line x1="39.30" y1="212.00" x2="50.60" y2="212.00" stroke="#111" stroke-width="1.5" />
<text x="54.70" y="214.50" font-size="7.1" font-weight="bold" fill="#111" text-anchor="start" >STK4(1-326) K59R + HOIP(854-1072)</text>
<line x1="39.30" y1="221.80" x2="50.60" y2="221.80" stroke="#f02a2a" stroke-width="1.5" />
<text x="54.70" y="224.30" font-size="7.1" font-weight="bold" fill="#f02a2a" text-anchor="start" >STK4(1-326) K59R</text>
<line x1="39.30" y1="230.90" x2="50.60" y2="230.90" stroke="#1a1ae6" stroke-width="1.5" />
<text x="54.70" y="233.40" font-size="7.1" font-weight="bold" fill="#1a1ae6" text-anchor="start" >HOIP(854-1072)</text>
<line x1="39.30" y1="240.90" x2="50.60" y2="240.90" stroke="#1e8a7a" stroke-width="1.1" stroke-dasharray="2.2,1.6"/>
<text x="54.70" y="243.40" font-size="7.1" font-weight="bold" fill="#1e8a7a" text-anchor="start" >SUM</text>
<text x="265.80" y="194.60" font-size="18" font-weight="normal" fill="#000" text-anchor="start" >d</text>
<text x="312.00" y="187.00" font-size="8.00" font-weight="bold" fill="#444" text-anchor="start" textLength="68.90" lengthAdjust="spacingAndGlyphs" >STK4(1-326) K59R</text>
<text x="316.70" y="200.60" font-size="8.15" font-weight="bold" fill="#444" text-anchor="start" textLength="59.80" lengthAdjust="spacingAndGlyphs" >HOIP(854-1072)</text>
<line x1="346.90" y1="187.50" x2="346.90" y2="193.00" stroke="#111" stroke-width="1.0" />
<path d="M344.2,190.2 L346.9,193.6 L349.6,190.2" fill="none" stroke="#111" stroke-width="1.1"/>
<line x1="289.50" y1="200.00" x2="289.50" y2="283.10" stroke="#111" stroke-width="1.0" />
<line x1="289.50" y1="283.10" x2="402.50" y2="283.10" stroke="#111" stroke-width="1.1" />
<line x1="287.00" y1="205.50" x2="289.50" y2="205.50" stroke="#111" stroke-width="0.9" />
<text x="286.70" y="207.40" font-size="5.4" font-weight="bold" fill="#111" text-anchor="end" textLength="8.50" lengthAdjust="spacingAndGlyphs" >0.0</text>
<line x1="287.00" y1="224.70" x2="289.50" y2="224.70" stroke="#111" stroke-width="0.9" />
<text x="286.70" y="226.60" font-size="5.4" font-weight="bold" fill="#111" text-anchor="end" textLength="10.40" lengthAdjust="spacingAndGlyphs" >-0.2</text>
<line x1="287.00" y1="243.90" x2="289.50" y2="243.90" stroke="#111" stroke-width="0.9" />
<text x="286.70" y="245.80" font-size="5.4" font-weight="bold" fill="#111" text-anchor="end" textLength="10.40" lengthAdjust="spacingAndGlyphs" >-0.4</text>
<line x1="287.00" y1="263.10" x2="289.50" y2="263.10" stroke="#111" stroke-width="0.9" />
<text x="286.70" y="265.00" font-size="5.4" font-weight="bold" fill="#111" text-anchor="end" textLength="10.40" lengthAdjust="spacingAndGlyphs" >-0.6</text>
<line x1="287.00" y1="282.30" x2="289.50" y2="282.30" stroke="#111" stroke-width="0.9" />
<text x="286.70" y="284.20" font-size="5.4" font-weight="bold" fill="#111" text-anchor="end" textLength="10.40" lengthAdjust="spacingAndGlyphs" >-0.8</text>
<line x1="288.00" y1="215.10" x2="289.50" y2="215.10" stroke="#111" stroke-width="0.8" />
<line x1="288.00" y1="234.30" x2="289.50" y2="234.30" stroke="#111" stroke-width="0.8" />
<line x1="288.00" y1="253.50" x2="289.50" y2="253.50" stroke="#111" stroke-width="0.8" />
<line x1="288.00" y1="272.70" x2="289.50" y2="272.70" stroke="#111" stroke-width="0.8" />
<line x1="289.50" y1="283.10" x2="289.50" y2="285.20" stroke="#111" stroke-width="0.8" />
<line x1="294.92" y1="283.10" x2="294.92" y2="284.40" stroke="#111" stroke-width="0.7" />
<text x="289.50" y="290.50" font-size="5.4" font-weight="bold" fill="#111" text-anchor="middle" >0</text>
<line x1="300.34" y1="283.10" x2="300.34" y2="285.20" stroke="#111" stroke-width="0.8" />
<line x1="305.76" y1="283.10" x2="305.76" y2="284.40" stroke="#111" stroke-width="0.7" />
<text x="300.34" y="290.50" font-size="5.4" font-weight="bold" fill="#111" text-anchor="middle" >5</text>
<line x1="311.18" y1="283.10" x2="311.18" y2="285.20" stroke="#111" stroke-width="0.8" />
<line x1="316.60" y1="283.10" x2="316.60" y2="284.40" stroke="#111" stroke-width="0.7" />
<text x="311.18" y="290.50" font-size="5.4" font-weight="bold" fill="#111" text-anchor="middle" >10</text>
<line x1="322.02" y1="283.10" x2="322.02" y2="285.20" stroke="#111" stroke-width="0.8" />
<line x1="327.44" y1="283.10" x2="327.44" y2="284.40" stroke="#111" stroke-width="0.7" />
<text x="322.02" y="290.50" font-size="5.4" font-weight="bold" fill="#111" text-anchor="middle" >15</text>
<line x1="332.86" y1="283.10" x2="332.86" y2="285.20" stroke="#111" stroke-width="0.8" />
<line x1="338.28" y1="283.10" x2="338.28" y2="284.40" stroke="#111" stroke-width="0.7" />
<text x="332.86" y="290.50" font-size="5.4" font-weight="bold" fill="#111" text-anchor="middle" >20</text>
<line x1="343.70" y1="283.10" x2="343.70" y2="285.20" stroke="#111" stroke-width="0.8" />
<line x1="349.12" y1="283.10" x2="349.12" y2="284.40" stroke="#111" stroke-width="0.7" />
<text x="343.70" y="290.50" font-size="5.4" font-weight="bold" fill="#111" text-anchor="middle" >25</text>
<line x1="354.54" y1="283.10" x2="354.54" y2="285.20" stroke="#111" stroke-width="0.8" />
<line x1="359.96" y1="283.10" x2="359.96" y2="284.40" stroke="#111" stroke-width="0.7" />
<text x="354.54" y="290.50" font-size="5.4" font-weight="bold" fill="#111" text-anchor="middle" >30</text>
<line x1="365.38" y1="283.10" x2="365.38" y2="285.20" stroke="#111" stroke-width="0.8" />
<line x1="370.80" y1="283.10" x2="370.80" y2="284.40" stroke="#111" stroke-width="0.7" />
<text x="365.38" y="290.50" font-size="5.4" font-weight="bold" fill="#111" text-anchor="middle" >35</text>
<line x1="376.22" y1="283.10" x2="376.22" y2="285.20" stroke="#111" stroke-width="0.8" />
<line x1="381.64" y1="283.10" x2="381.64" y2="284.40" stroke="#111" stroke-width="0.7" />
<text x="376.22" y="290.50" font-size="5.4" font-weight="bold" fill="#111" text-anchor="middle" >40</text>
<line x1="387.06" y1="283.10" x2="387.06" y2="285.20" stroke="#111" stroke-width="0.8" />
<line x1="392.48" y1="283.10" x2="392.48" y2="284.40" stroke="#111" stroke-width="0.7" />
<text x="387.06" y="290.50" font-size="5.4" font-weight="bold" fill="#111" text-anchor="middle" >45</text>
<line x1="397.90" y1="283.10" x2="397.90" y2="285.20" stroke="#111" stroke-width="0.8" />
<line x1="403.32" y1="283.10" x2="403.32" y2="284.40" stroke="#111" stroke-width="0.7" />
<text x="397.90" y="290.50" font-size="5.4" font-weight="bold" fill="#111" text-anchor="middle" >50</text>
<text x="327.50" y="298.00" font-size="7.62" font-weight="bold" fill="#111" text-anchor="start" textLength="38.40" lengthAdjust="spacingAndGlyphs" >Time (min)</text>
<text transform="translate(273.7,242) rotate(-90)" x="0" y="0" font-size="7" font-weight="bold" fill="#111" text-anchor="middle" textLength="30.6" lengthAdjust="spacingAndGlyphs">DP (µW)</text>
<path d="M289.50,205.60 L291.70,205.60 L292.00,204.30 L292.20,205.60 L292.30,247.70 L292.75,214.86 L293.40,206.50 L294.70,205.60 L297.20,205.60 L297.50,204.30 L297.70,205.60 L297.80,280.30 L298.25,222.03 L298.90,206.50 L300.20,205.60 L302.60,205.60 L302.90,204.30 L303.10,205.60 L303.20,277.00 L303.65,221.31 L304.30,206.50 L305.60,205.60 L308.00,205.60 L308.30,204.30 L308.50,205.60 L308.60,269.80 L309.05,219.72 L309.70,206.50 L311.00,205.60 L313.40,205.60 L313.70,204.30 L313.90,205.60 L314.00,265.50 L314.45,218.78 L315.10,206.50 L316.40,205.60 L318.90,205.60 L319.20,204.30 L319.40,205.60 L319.50,259.70 L319.95,217.50 L320.60,206.50 L321.90,205.60 L324.30,205.60 L324.60,204.30 L324.80,205.60 L324.90,253.10 L325.35,216.05 L326.00,206.50 L327.30,205.60 L329.70,205.60 L330.00,204.30 L330.20,205.60 L330.30,247.70 L330.75,214.86 L331.40,206.50 L332.70,205.60 L335.10,205.60 L335.40,204.30 L335.60,205.60 L335.70,243.40 L336.15,213.92 L336.80,206.50 L338.10,205.60 L340.40,205.60 L340.70,204.30 L340.90,205.60 L341.00,240.60 L341.45,213.30 L342.10,206.50 L343.40,205.60 L345.90,205.60 L346.20,204.30 L346.40,205.60 L346.50,238.30 L346.95,212.79 L347.60,206.50 L348.90,205.60 L351.00,205.60 L351.30,204.30 L351.50,205.60 L351.60,233.40 L352.05,211.72 L352.70,206.50 L354.00,205.60 L356.50,205.60 L356.80,204.30 L357.00,205.60 L357.10,231.30 L357.55,211.25 L358.20,206.50 L359.50,205.60 L361.80,205.60 L362.10,204.30 L362.30,205.60 L362.40,229.10 L362.85,210.77 L363.50,206.50 L364.80,205.60 L367.30,205.60 L367.60,204.30 L367.80,205.60 L367.90,227.40 L368.35,210.40 L369.00,206.50 L370.30,205.60 L372.70,205.60 L373.00,204.30 L373.20,205.60 L373.30,226.10 L373.75,210.11 L374.40,206.50 L375.70,205.60 L378.00,205.60 L378.30,204.30 L378.50,205.60 L378.60,224.00 L379.05,209.65 L379.70,206.50 L381.00,205.60 L383.50,205.60 L383.80,204.30 L384.00,205.60 L384.10,223.20 L384.55,209.47 L385.20,206.50 L386.50,205.60 L389.00,205.60 L389.30,204.30 L389.50,205.60 L389.60,221.70 L390.05,209.14 L390.70,206.50 L392.00,205.60 L394.10,205.60 L394.40,204.30 L394.60,205.60 L394.70,221.90 L395.15,209.19 L395.80,206.50 L397.10,205.60 L400.00,205.60" fill="none" stroke="#111" stroke-width="1.2" stroke-linejoin="round" />
<line x1="351.80" y1="247.00" x2="353.80" y2="247.00" stroke="#000" stroke-width="0.9" />
<rect x="354.10" y="242.75" width="37.10" height="8.50" fill="url(#h_kd)" stroke="none" stroke-width="0" />
<rect x="354.10" y="242.75" width="37.10" height="8.50" fill="url(#v_kd)" stroke="none" stroke-width="0" />
<text x="372.65" y="249.23" font-size="6.20" font-weight="bold" fill="#2a2a2a" text-anchor="middle" >KD</text>
<line x1="391.40" y1="247.00" x2="393.40" y2="247.00" stroke="#000" stroke-width="0.9" />
<polygon points="361.80,241.20 362.43,242.73 364.08,242.86 362.83,243.93 363.21,245.54 361.80,244.68 360.39,245.54 360.77,243.93 359.52,242.86 361.17,242.73" fill="#f02a2a"/>
<text x="356.00" y="241.50" font-size="3.80" font-weight="bold" fill="#111" text-anchor="start" textLength="11.50" lengthAdjust="spacingAndGlyphs" >K59R</text>
<line x1="372.00" y1="254.00" x2="372.00" y2="265.00" stroke="#111" stroke-width="0.9" />
<path d="M369.5,261.5 L372,265.3 L374.5,261.5" fill="none" stroke="#111" stroke-width="0.9"/>
<rect x="347.00" y="269.30" width="12.40" height="8.00" fill="url(#h_ring)" stroke="none" stroke-width="0" />
<rect x="347.00" y="269.30" width="12.40" height="8.00" fill="url(#v_ring)" stroke="none" stroke-width="0" />
<text x="353.20" y="274.52" font-size="3.40" font-weight="bold" fill="#2a2a2a" text-anchor="middle" >RING2</text>
<line x1="359.40" y1="273.30" x2="362.30" y2="273.30" stroke="#000" stroke-width="0.9" />
<rect x="362.30" y="269.30" width="35.90" height="8.00" fill="url(#h_ldd)" stroke="none" stroke-width="0" />
<rect x="362.30" y="269.30" width="35.90" height="8.00" fill="url(#v_ldd)" stroke="none" stroke-width="0" />
<text x="380.25" y="275.64" font-size="6.50" font-weight="bold" fill="#2a2a2a" text-anchor="middle" >LDD</text>
<line x1="289.50" y1="292.00" x2="289.50" y2="375.30" stroke="#111" stroke-width="1.0" />
<line x1="289.50" y1="375.30" x2="407.00" y2="375.30" stroke="#111" stroke-width="1.0" />
<line x1="287.00" y1="294.00" x2="289.50" y2="294.00" stroke="#111" stroke-width="0.9" />
<text x="286.50" y="296.10" font-size="6" font-weight="bold" fill="#111" text-anchor="end" >0</text>
<line x1="287.00" y1="307.55" x2="289.50" y2="307.55" stroke="#111" stroke-width="0.9" />
<text x="286.50" y="309.65" font-size="6" font-weight="bold" fill="#111" text-anchor="end" >-2</text>
<line x1="287.00" y1="321.10" x2="289.50" y2="321.10" stroke="#111" stroke-width="0.9" />
<text x="286.50" y="323.20" font-size="6" font-weight="bold" fill="#111" text-anchor="end" >-4</text>
<line x1="287.00" y1="334.65" x2="289.50" y2="334.65" stroke="#111" stroke-width="0.9" />
<text x="286.50" y="336.75" font-size="6" font-weight="bold" fill="#111" text-anchor="end" >-6</text>
<line x1="287.00" y1="348.20" x2="289.50" y2="348.20" stroke="#111" stroke-width="0.9" />
<text x="286.50" y="350.30" font-size="6" font-weight="bold" fill="#111" text-anchor="end" >-8</text>
<line x1="287.00" y1="361.75" x2="289.50" y2="361.75" stroke="#111" stroke-width="0.9" />
<text x="286.50" y="363.85" font-size="6" font-weight="bold" fill="#111" text-anchor="end" >-10</text>
<line x1="287.00" y1="375.30" x2="289.50" y2="375.30" stroke="#111" stroke-width="0.9" />
<text x="286.50" y="377.40" font-size="6" font-weight="bold" fill="#111" text-anchor="end" >-12</text>
<line x1="288.00" y1="300.77" x2="289.50" y2="300.77" stroke="#111" stroke-width="0.8" />
<line x1="288.00" y1="314.32" x2="289.50" y2="314.32" stroke="#111" stroke-width="0.8" />
<line x1="288.00" y1="327.88" x2="289.50" y2="327.88" stroke="#111" stroke-width="0.8" />
<line x1="288.00" y1="341.43" x2="289.50" y2="341.43" stroke="#111" stroke-width="0.8" />
<line x1="288.00" y1="354.98" x2="289.50" y2="354.98" stroke="#111" stroke-width="0.8" />
<line x1="288.00" y1="368.53" x2="289.50" y2="368.53" stroke="#111" stroke-width="0.8" />
<line x1="290.00" y1="375.30" x2="290.00" y2="377.50" stroke="#111" stroke-width="0.9" />
<text x="290.00" y="383.30" font-size="6" font-weight="bold" fill="#111" text-anchor="middle" >0.0</text>
<line x1="310.00" y1="375.30" x2="310.00" y2="377.50" stroke="#111" stroke-width="0.9" />
<text x="310.00" y="383.30" font-size="6" font-weight="bold" fill="#111" text-anchor="middle" >0.4</text>
<line x1="330.00" y1="375.30" x2="330.00" y2="377.50" stroke="#111" stroke-width="0.9" />
<text x="330.00" y="383.30" font-size="6" font-weight="bold" fill="#111" text-anchor="middle" >0.8</text>
<line x1="350.00" y1="375.30" x2="350.00" y2="377.50" stroke="#111" stroke-width="0.9" />
<text x="350.00" y="383.30" font-size="6" font-weight="bold" fill="#111" text-anchor="middle" >1.2</text>
<line x1="370.00" y1="375.30" x2="370.00" y2="377.50" stroke="#111" stroke-width="0.9" />
<text x="370.00" y="383.30" font-size="6" font-weight="bold" fill="#111" text-anchor="middle" >1.6</text>
<line x1="390.00" y1="375.30" x2="390.00" y2="377.50" stroke="#111" stroke-width="0.9" />
<text x="390.00" y="383.30" font-size="6" font-weight="bold" fill="#111" text-anchor="middle" >2.0</text>
<line x1="300.00" y1="375.30" x2="300.00" y2="376.80" stroke="#111" stroke-width="0.8" />
<line x1="320.00" y1="375.30" x2="320.00" y2="376.80" stroke="#111" stroke-width="0.8" />
<line x1="340.00" y1="375.30" x2="340.00" y2="376.80" stroke="#111" stroke-width="0.8" />
<line x1="360.00" y1="375.30" x2="360.00" y2="376.80" stroke="#111" stroke-width="0.8" />
<line x1="380.00" y1="375.30" x2="380.00" y2="376.80" stroke="#111" stroke-width="0.8" />
<text x="327.00" y="390.50" font-size="7.63" font-weight="bold" fill="#111" text-anchor="start" textLength="39.00" lengthAdjust="spacingAndGlyphs" >Molar ratio</text>
<text transform="translate(274.5,334) rotate(-90)" x="0" y="0" font-size="7" font-weight="bold" fill="#111" text-anchor="middle" textLength="42.2" lengthAdjust="spacingAndGlyphs">ΔH (KJ/mol)</text>
<path d="M291.90,368.14 L293.22,366.79 L294.54,365.45 L295.85,364.12 L297.17,362.80 L298.49,361.49 L299.81,360.20 L301.12,358.91 L302.44,357.63 L303.76,356.37 L305.08,355.11 L306.39,353.87 L307.71,352.64 L309.03,351.42 L310.35,350.21 L311.67,349.02 L312.98,347.83 L314.30,346.66 L315.62,345.51 L316.94,344.36 L318.25,343.23 L319.57,342.11 L320.89,341.01 L322.21,339.92 L323.53,338.84 L324.84,337.78 L326.16,336.73 L327.48,335.70 L328.80,334.68 L330.11,333.68 L331.43,332.69 L332.75,331.71 L334.07,330.75 L335.38,329.81 L336.70,328.88 L338.02,327.97 L339.34,327.08 L340.66,326.20 L341.97,325.34 L343.29,324.49 L344.61,323.66 L345.93,322.85 L347.24,322.06 L348.56,321.28 L349.88,320.52 L351.20,319.78 L352.52,319.06 L353.83,318.36 L355.15,317.67 L356.47,317.00 L357.79,316.35 L359.10,315.72 L360.42,315.11 L361.74,314.52 L363.06,313.95 L364.37,313.40 L365.69,312.87 L367.01,312.35 L368.33,311.86 L369.65,311.39 L370.96,310.94 L372.28,310.51 L373.60,310.10 L374.92,309.71 L376.23,309.35 L377.55,309.00 L378.87,308.68 L380.19,308.38 L381.51,308.10 L382.82,307.84 L384.14,307.61 L385.46,307.40 L386.78,307.21 L388.09,307.05 L389.41,306.90 L390.73,306.79 L392.05,306.69 L393.36,306.62 L394.68,306.57 L396.00,306.55" fill="none" stroke="#111" stroke-width="1.1" stroke-linejoin="round" />
<circle cx="297.00" cy="362.97" r="1.5" fill="#111"/>
<circle cx="302.20" cy="357.86" r="1.5" fill="#111"/>
<circle cx="307.30" cy="353.02" r="1.5" fill="#111"/>
<circle cx="312.60" cy="348.18" r="1.5" fill="#111"/>
<circle cx="317.90" cy="343.53" r="1.5" fill="#111"/>
<circle cx="322.90" cy="339.35" r="1.5" fill="#111"/>
<circle cx="328.20" cy="335.14" r="1.5" fill="#111"/>
<circle cx="333.30" cy="331.31" r="1.5" fill="#111"/>
<circle cx="338.60" cy="327.58" r="1.5" fill="#111"/>
<circle cx="344.10" cy="323.98" r="1.5" fill="#111"/>
<circle cx="349.40" cy="320.80" r="1.5" fill="#111"/>
<circle cx="355.10" cy="317.70" r="1.5" fill="#111"/>
<circle cx="360.40" cy="315.12" r="1.5" fill="#111"/>
<circle cx="366.10" cy="312.70" r="1.5" fill="#111"/>
<circle cx="371.90" cy="310.63" r="1.5" fill="#111"/>
<circle cx="377.00" cy="309.14" r="1.5" fill="#111"/>
<circle cx="383.40" cy="307.74" r="1.5" fill="#111"/>
<circle cx="389.10" cy="306.93" r="1.5" fill="#111"/>
<circle cx="395.30" cy="306.56" r="1.5" fill="#111"/>
<text x="319.5" y="361.3" font-size="9" font-weight="bold" fill="#111" textLength="78" lengthAdjust="spacingAndGlyphs"><tspan font-style="italic">K</tspan>d = 28.5 ± 1.2 µM</text>
<text x="409.00" y="194.60" font-size="18" font-weight="normal" fill="#000" text-anchor="start" >e</text>
<text x="438.80" y="188.60" font-size="6.97" font-weight="bold" fill="#111" text-anchor="start" textLength="241.90" lengthAdjust="spacingAndGlyphs" >Theoretical MW: HOIP(854-1072): 24.0 kDa; STK4(11-326) K59R: 34.7 kDa;</text>
<rect x="439.60" y="191.20" width="240.60" height="176.40" fill="none" stroke="#111" stroke-width="1.2" />
<line x1="439.60" y1="367.60" x2="439.60" y2="371.10" stroke="#111" stroke-width="1.0" />
<text x="439.60" y="379.90" font-size="7.8" font-weight="bold" fill="#111" text-anchor="middle" >0</text>
<line x1="451.63" y1="367.60" x2="451.63" y2="369.90" stroke="#111" stroke-width="0.9" />
<line x1="463.66" y1="367.60" x2="463.66" y2="371.10" stroke="#111" stroke-width="1.0" />
<text x="463.66" y="379.90" font-size="7.8" font-weight="bold" fill="#111" text-anchor="middle" >1</text>
<line x1="475.69" y1="367.60" x2="475.69" y2="369.90" stroke="#111" stroke-width="0.9" />
<line x1="487.72" y1="367.60" x2="487.72" y2="371.10" stroke="#111" stroke-width="1.0" />
<text x="487.72" y="379.90" font-size="7.8" font-weight="bold" fill="#111" text-anchor="middle" >2</text>
<line x1="499.75" y1="367.60" x2="499.75" y2="369.90" stroke="#111" stroke-width="0.9" />
<line x1="511.78" y1="367.60" x2="511.78" y2="371.10" stroke="#111" stroke-width="1.0" />
<text x="511.78" y="379.90" font-size="7.8" font-weight="bold" fill="#111" text-anchor="middle" >3</text>
<line x1="523.81" y1="367.60" x2="523.81" y2="369.90" stroke="#111" stroke-width="0.9" />
<line x1="535.84" y1="367.60" x2="535.84" y2="371.10" stroke="#111" stroke-width="1.0" />
<text x="535.84" y="379.90" font-size="7.8" font-weight="bold" fill="#111" text-anchor="middle" >4</text>
<line x1="547.87" y1="367.60" x2="547.87" y2="369.90" stroke="#111" stroke-width="0.9" />
<line x1="559.90" y1="367.60" x2="559.90" y2="371.10" stroke="#111" stroke-width="1.0" />
<text x="559.90" y="379.90" font-size="7.8" font-weight="bold" fill="#111" text-anchor="middle" >5</text>
<line x1="571.93" y1="367.60" x2="571.93" y2="369.90" stroke="#111" stroke-width="0.9" />
<line x1="583.96" y1="367.60" x2="583.96" y2="371.10" stroke="#111" stroke-width="1.0" />
<text x="583.96" y="379.90" font-size="7.8" font-weight="bold" fill="#111" text-anchor="middle" >6</text>
<line x1="595.99" y1="367.60" x2="595.99" y2="369.90" stroke="#111" stroke-width="0.9" />
<line x1="608.02" y1="367.60" x2="608.02" y2="371.10" stroke="#111" stroke-width="1.0" />
<text x="608.02" y="379.90" font-size="7.8" font-weight="bold" fill="#111" text-anchor="middle" >7</text>
<line x1="620.05" y1="367.60" x2="620.05" y2="369.90" stroke="#111" stroke-width="0.9" />
<line x1="632.08" y1="367.60" x2="632.08" y2="371.10" stroke="#111" stroke-width="1.0" />
<text x="632.08" y="379.90" font-size="7.8" font-weight="bold" fill="#111" text-anchor="middle" >8</text>
<line x1="644.11" y1="367.60" x2="644.11" y2="369.90" stroke="#111" stroke-width="0.9" />
<line x1="656.14" y1="367.60" x2="656.14" y2="371.10" stroke="#111" stroke-width="1.0" />
<text x="656.14" y="379.90" font-size="7.8" font-weight="bold" fill="#111" text-anchor="middle" >9</text>
<line x1="668.17" y1="367.60" x2="668.17" y2="369.90" stroke="#111" stroke-width="0.9" />
<line x1="680.20" y1="367.60" x2="680.20" y2="371.10" stroke="#111" stroke-width="1.0" />
<text x="680.20" y="379.90" font-size="7.8" font-weight="bold" fill="#111" text-anchor="middle" >10</text>
<line x1="437.10" y1="367.60" x2="439.60" y2="367.60" stroke="#111" stroke-width="1.0" />
<text x="433.40" y="370.50" font-size="8" font-weight="bold" fill="#111" text-anchor="end" textLength="10.40" lengthAdjust="spacingAndGlyphs" >0.0</text>
<line x1="438.10" y1="353.50" x2="439.60" y2="353.50" stroke="#111" stroke-width="0.9" />
<line x1="437.10" y1="339.40" x2="439.60" y2="339.40" stroke="#111" stroke-width="1.0" />
<text x="433.40" y="342.30" font-size="8" font-weight="bold" fill="#111" text-anchor="end" textLength="10.40" lengthAdjust="spacingAndGlyphs" >0.4</text>
<line x1="438.10" y1="325.30" x2="439.60" y2="325.30" stroke="#111" stroke-width="0.9" />
<line x1="437.10" y1="311.20" x2="439.60" y2="311.20" stroke="#111" stroke-width="1.0" />
<text x="433.40" y="314.10" font-size="8" font-weight="bold" fill="#111" text-anchor="end" textLength="10.40" lengthAdjust="spacingAndGlyphs" >0.8</text>
<line x1="438.10" y1="297.10" x2="439.60" y2="297.10" stroke="#111" stroke-width="0.9" />
<line x1="437.10" y1="283.00" x2="439.60" y2="283.00" stroke="#111" stroke-width="1.0" />
<text x="433.40" y="285.90" font-size="8" font-weight="bold" fill="#111" text-anchor="end" textLength="10.40" lengthAdjust="spacingAndGlyphs" >1.2</text>
<line x1="438.10" y1="268.90" x2="439.60" y2="268.90" stroke="#111" stroke-width="0.9" />
<line x1="437.10" y1="254.80" x2="439.60" y2="254.80" stroke="#111" stroke-width="1.0" />
<text x="433.40" y="257.70" font-size="8" font-weight="bold" fill="#111" text-anchor="end" textLength="10.40" lengthAdjust="spacingAndGlyphs" >1.6</text>
<line x1="438.10" y1="240.70" x2="439.60" y2="240.70" stroke="#111" stroke-width="0.9" />
<line x1="437.10" y1="226.60" x2="439.60" y2="226.60" stroke="#111" stroke-width="1.0" />
<text x="433.40" y="229.50" font-size="8" font-weight="bold" fill="#111" text-anchor="end" textLength="10.40" lengthAdjust="spacingAndGlyphs" >2.0</text>
<line x1="438.10" y1="212.50" x2="439.60" y2="212.50" stroke="#111" stroke-width="0.9" />
<line x1="437.10" y1="198.40" x2="439.60" y2="198.40" stroke="#111" stroke-width="1.0" />
<text x="433.40" y="201.30" font-size="8" font-weight="bold" fill="#111" text-anchor="end" textLength="10.40" lengthAdjust="spacingAndGlyphs" >2.4</text>
<line x1="438.10" y1="184.30" x2="439.60" y2="184.30" stroke="#111" stroke-width="0.9" />
<text x="495.70" y="388.70" font-size="9.36" font-weight="bold" fill="#111" text-anchor="start" textLength="127.90" lengthAdjust="spacingAndGlyphs" >sedimentation coefficient (S)</text>
<text transform="translate(419.4,275) rotate(-90)" x="0" y="0" font-size="8" font-weight="bold" fill="#111" text-anchor="middle" textLength="47.4" lengthAdjust="spacingAndGlyphs">c(s) (AU/S)</text>
<path d="M439.60,367.60 L440.08,315.43 L440.56,295.76 L441.04,283.29 L441.52,283.29 L442.01,295.76 L442.49,315.43 L442.97,335.32 L443.45,350.58 L443.93,359.95 L444.41,364.67 L444.89,366.64 L445.37,367.33 L445.86,367.54 L446.34,367.59 L446.82,367.60 L446.82,367.60 L448.02,367.60 L449.22,367.60 L450.43,367.60 L451.63,367.60 L452.83,367.60 L454.04,367.60 L455.24,367.60 L456.44,367.60 L457.65,367.60 L458.85,367.60 L460.05,367.60 L461.25,367.60 L462.46,367.60 L463.66,367.60 L464.86,367.60 L466.07,367.60 L467.27,367.60 L468.47,367.60 L469.68,367.60 L470.88,367.60 L472.08,367.60 L473.28,367.60 L474.49,367.60 L475.69,367.60 L476.89,367.60 L478.10,367.60 L479.30,367.60 L480.50,367.60 L481.71,367.60 L482.91,367.60 L484.11,367.59 L485.31,367.56 L486.52,367.45 L487.72,367.08 L488.92,366.03 L490.13,363.36 L491.33,357.43 L492.53,345.90 L493.74,326.47 L494.94,298.37 L496.14,264.12 L497.34,230.25 L498.55,205.69 L499.75,198.00 L500.95,209.53 L502.16,235.89 L503.36,268.09 L504.56,296.79 L505.77,316.26 L506.97,326.13 L508.17,330.16 L509.37,333.09 L510.58,337.63 L511.78,343.51 L512.98,348.85 L514.19,352.12 L515.39,353.01 L516.59,352.09 L517.80,350.12 L519.00,347.62 L520.20,344.88 L521.40,342.06 L522.61,339.24 L523.81,336.52 L525.01,333.97 L526.22,331.69 L527.42,329.73 L528.62,328.19 L529.83,327.10 L531.03,326.52 L532.23,326.54 L533.43,327.79 L534.64,330.30 L535.84,333.83 L537.04,338.06 L538.25,342.63 L539.45,347.20 L540.65,351.50 L541.86,355.32 L543.06,358.55 L544.26,361.16 L545.46,363.17 L546.67,364.65 L547.87,365.71 L549.07,366.42 L550.28,366.89 L551.48,367.19 L552.68,367.37 L553.88,367.48 L555.09,367.54 L556.29,367.57 L557.49,367.58 L558.70,367.59 L559.90,367.60 L561.10,367.60 L562.31,367.60 L563.51,367.60 L564.71,367.60 L565.92,367.60 L567.12,367.60 L568.32,367.60 L569.52,367.60 L570.73,367.60 L571.93,367.60 L573.13,367.60 L574.34,367.60 L575.54,367.60 L576.74,367.60 L577.95,367.60 L579.15,367.60 L580.35,367.60 L581.55,367.60 L582.76,367.60 L583.96,367.60 L585.16,367.60 L586.37,367.60 L587.57,367.60 L588.77,367.60 L589.98,367.60 L591.18,367.60 L592.38,367.60 L593.58,367.60 L594.79,367.60 L595.99,367.60 L597.19,367.60 L598.40,367.60 L599.60,367.60 L600.80,367.60 L602.01,367.60 L603.21,367.60 L604.41,367.60 L605.61,367.60 L606.82,367.60 L608.02,367.59 L609.22,367.59 L610.43,367.58 L611.63,367.58 L612.83,367.57 L614.04,367.56 L615.24,367.54 L616.44,367.52 L617.64,367.49 L618.85,367.45 L620.05,367.41 L621.25,367.36 L622.46,367.30 L623.66,367.22 L624.86,367.14 L626.07,367.05 L627.27,366.95 L628.47,366.85 L629.67,366.74 L630.88,366.64 L632.08,366.54 L633.28,366.44 L634.49,366.36 L635.69,366.29 L636.89,366.23 L638.10,366.20 L639.30,366.19 L640.50,366.20 L641.70,366.23 L642.91,366.29 L644.11,366.36 L645.31,366.44 L646.52,366.54 L647.72,366.64 L648.92,366.74 L650.12,366.85 L651.33,366.95 L652.53,367.05 L653.73,367.14 L654.94,367.22 L656.14,367.30 L657.34,367.36 L658.55,367.41 L659.75,367.45 L660.95,367.49 L662.16,367.52 L663.36,367.54 L664.56,367.56 L665.76,367.57 L666.97,367.58 L668.17,367.58 L669.37,367.59 L670.58,367.59 L671.78,367.60 L672.98,367.60 L674.19,367.60 L675.39,367.60 L676.59,367.60 L677.79,367.60 L679.00,367.60 L680.20,367.60" fill="none" stroke="#111" stroke-width="1.3" stroke-linejoin="round" />
<path d="M439.60,367.60 L440.08,327.83 L440.56,312.84 L441.04,303.33 L441.52,303.33 L442.01,312.84 L442.49,327.83 L442.97,342.99 L443.45,354.62 L443.93,361.77 L444.41,365.37 L444.89,366.87 L445.37,367.40 L445.86,367.55 L446.34,367.59 L446.82,367.60 L446.82,367.60 L448.02,367.60 L449.22,367.60 L450.43,367.60 L451.63,367.60 L452.83,367.60 L454.04,367.60 L455.24,367.60 L456.44,367.60 L457.65,367.60 L458.85,367.60 L460.05,367.60 L461.25,367.60 L462.46,367.60 L463.66,367.60 L464.86,367.59 L466.07,367.58 L467.27,367.57 L468.47,367.54 L469.68,367.50 L470.88,367.43 L472.08,367.32 L473.28,367.16 L474.49,366.92 L475.69,366.61 L476.89,366.21 L478.10,365.71 L479.30,365.14 L480.50,364.52 L481.71,363.89 L482.91,363.28 L484.11,362.75 L485.31,362.34 L486.52,362.05 L487.72,361.89 L488.92,361.82 L490.13,361.79 L491.33,361.73 L492.53,361.55 L493.74,361.18 L494.94,360.55 L496.14,359.60 L497.34,358.31 L498.55,356.67 L499.75,354.69 L500.95,352.39 L502.16,349.84 L503.36,347.10 L504.56,344.24 L505.77,341.37 L506.97,338.58 L508.17,335.99 L509.37,333.69 L510.58,331.78 L511.78,330.36 L512.98,329.48 L514.19,329.18 L515.39,329.48 L516.59,330.36 L517.80,331.79 L519.00,333.69 L520.20,335.99 L521.40,338.60 L522.61,341.40 L523.81,344.30 L525.01,347.19 L526.22,350.01 L527.42,352.67 L528.62,355.13 L529.83,357.34 L531.03,359.29 L532.23,360.98 L533.43,362.40 L534.64,363.58 L535.84,364.54 L537.04,365.31 L538.25,365.91 L539.45,366.37 L540.65,366.72 L541.86,366.98 L543.06,367.17 L544.26,367.31 L545.46,367.40 L546.67,367.47 L547.87,367.52 L549.07,367.55 L550.28,367.57 L551.48,367.58 L552.68,367.59 L553.88,367.59 L555.09,367.60 L556.29,367.60 L557.49,367.60 L558.70,367.60 L559.90,367.60 L561.10,367.60 L562.31,367.60 L563.51,367.60 L564.71,367.60 L565.92,367.60 L567.12,367.60 L568.32,367.60 L569.52,367.60 L570.73,367.60 L571.93,367.60 L573.13,367.60 L574.34,367.60 L575.54,367.60 L576.74,367.60 L577.95,367.60 L579.15,367.60 L580.35,367.60 L581.55,367.60 L582.76,367.60 L583.96,367.60 L585.16,367.60 L586.37,367.60 L587.57,367.60 L588.77,367.60 L589.98,367.60 L591.18,367.60 L592.38,367.60 L593.58,367.60 L594.79,367.60 L595.99,367.60 L597.19,367.60 L598.40,367.60 L599.60,367.60 L600.80,367.60 L602.01,367.60 L603.21,367.60 L604.41,367.60 L605.61,367.60 L606.82,367.60 L608.02,367.60 L609.22,367.60 L610.43,367.60 L611.63,367.60 L612.83,367.60 L614.04,367.60 L615.24,367.60 L616.44,367.60 L617.64,367.60 L618.85,367.60 L620.05,367.60 L621.25,367.60 L622.46,367.60 L623.66,367.60 L624.86,367.60 L626.07,367.60 L627.27,367.60 L628.47,367.60 L629.67,367.60 L630.88,367.60 L632.08,367.60 L633.28,367.60 L634.49,367.60 L635.69,367.60 L636.89,367.60 L638.10,367.60 L639.30,367.60 L640.50,367.60 L641.70,367.60 L642.91,367.60 L644.11,367.60 L645.31,367.60 L646.52,367.60 L647.72,367.60 L648.92,367.60 L650.12,367.60 L651.33,367.60 L652.53,367.60 L653.73,367.60 L654.94,367.60 L656.14,367.60 L657.34,367.60 L658.55,367.60 L659.75,367.60 L660.95,367.60 L662.16,367.60 L663.36,367.60 L664.56,367.60 L665.76,367.60 L666.97,367.60 L668.17,367.60 L669.37,367.60 L670.58,367.60 L671.78,367.60 L672.98,367.60 L674.19,367.60 L675.39,367.60 L676.59,367.60 L677.79,367.60 L679.00,367.60 L680.20,367.60" fill="none" stroke="#2e8b2e" stroke-width="1.3" stroke-linejoin="round" />
<path d="M439.60,367.60 L440.08,337.24 L440.56,325.79 L441.04,318.54 L441.52,318.54 L442.01,325.79 L442.49,337.24 L442.97,348.81 L443.45,357.69 L443.93,363.15 L444.41,365.90 L444.89,367.04 L445.37,367.45 L445.86,367.56 L446.34,367.59 L446.82,367.60 L446.82,367.60 L448.02,367.60 L449.22,367.60 L450.43,367.60 L451.63,367.60 L452.83,367.60 L454.04,367.60 L455.24,367.60 L456.44,367.60 L457.65,367.60 L458.85,367.60 L460.05,367.60 L461.25,367.60 L462.46,367.60 L463.66,367.60 L464.86,367.60 L466.07,367.60 L467.27,367.60 L468.47,367.60 L469.68,367.60 L470.88,367.60 L472.08,367.60 L473.28,367.60 L474.49,367.60 L475.69,367.60 L476.89,367.60 L478.10,367.60 L479.30,367.60 L480.50,367.60 L481.71,367.60 L482.91,367.60 L484.11,367.60 L485.31,367.59 L486.52,367.58 L487.72,367.56 L488.92,367.52 L490.13,367.45 L491.33,367.32 L492.53,367.11 L493.74,366.76 L494.94,366.21 L496.14,365.37 L497.34,364.15 L498.55,362.41 L499.75,360.06 L500.95,357.01 L502.16,353.19 L503.36,348.64 L504.56,343.47 L505.77,337.88 L506.97,332.19 L508.17,326.78 L509.37,322.08 L510.58,318.48 L511.78,316.33 L512.98,315.82 L514.19,317.00 L515.39,319.77 L516.59,323.85 L517.80,328.89 L519.00,334.46 L520.20,340.15 L521.40,345.60 L522.61,350.55 L523.81,354.81 L525.01,358.32 L526.22,361.08 L527.42,363.17 L528.62,364.69 L529.83,365.75 L531.03,366.46 L532.23,366.92 L533.43,367.21 L534.64,367.38 L535.84,367.48 L537.04,367.54 L538.25,367.57 L539.45,367.58 L540.65,367.59 L541.86,367.60 L543.06,367.60 L544.26,367.60 L545.46,367.60 L546.67,367.60 L547.87,367.60 L549.07,367.60 L550.28,367.60 L551.48,367.60 L552.68,367.60 L553.88,367.60 L555.09,367.60 L556.29,367.60 L557.49,367.60 L558.70,367.60 L559.90,367.60 L561.10,367.60 L562.31,367.60 L563.51,367.60 L564.71,367.60 L565.92,367.60 L567.12,367.60 L568.32,367.60 L569.52,367.60 L570.73,367.60 L571.93,367.60 L573.13,367.60 L574.34,367.60 L575.54,367.60 L576.74,367.60 L577.95,367.60 L579.15,367.60 L580.35,367.60 L581.55,367.60 L582.76,367.60 L583.96,367.60 L585.16,367.60 L586.37,367.60 L587.57,367.60 L588.77,367.60 L589.98,367.60 L591.18,367.60 L592.38,367.60 L593.58,367.60 L594.79,367.60 L595.99,367.60 L597.19,367.60 L598.40,367.60 L599.60,367.60 L600.80,367.60 L602.01,367.60 L603.21,367.60 L604.41,367.60 L605.61,367.60 L606.82,367.60 L608.02,367.60 L609.22,367.60 L610.43,367.60 L611.63,367.60 L612.83,367.60 L614.04,367.60 L615.24,367.60 L616.44,367.60 L617.64,367.60 L618.85,367.60 L620.05,367.60 L621.25,367.60 L622.46,367.60 L623.66,367.60 L624.86,367.60 L626.07,367.60 L627.27,367.60 L628.47,367.60 L629.67,367.60 L630.88,367.60 L632.08,367.60 L633.28,367.60 L634.49,367.60 L635.69,367.60 L636.89,367.60 L638.10,367.60 L639.30,367.60 L640.50,367.60 L641.70,367.60 L642.91,367.60 L644.11,367.60 L645.31,367.60 L646.52,367.60 L647.72,367.60 L648.92,367.60 L650.12,367.60 L651.33,367.60 L652.53,367.60 L653.73,367.60 L654.94,367.60 L656.14,367.60 L657.34,367.60 L658.55,367.60 L659.75,367.60 L660.95,367.60 L662.16,367.60 L663.36,367.60 L664.56,367.60 L665.76,367.60 L666.97,367.60 L668.17,367.60 L669.37,367.60 L670.58,367.60 L671.78,367.60 L672.98,367.60 L674.19,367.60 L675.39,367.60 L676.59,367.60 L677.79,367.60 L679.00,367.60 L680.20,367.60" fill="none" stroke="#e8364a" stroke-width="1.3" stroke-linejoin="round" />
<path d="M439.60,367.60 L440.08,338.10 L440.56,326.97 L441.04,319.92 L441.52,319.92 L442.01,326.97 L442.49,338.10 L442.97,349.34 L443.45,357.97 L443.93,363.27 L444.41,365.94 L444.89,367.06 L445.37,367.45 L445.86,367.56 L446.34,367.59 L446.82,367.60 L446.82,367.60 L448.02,367.60 L449.22,367.60 L450.43,367.60 L451.63,367.60 L452.83,367.60 L454.04,367.60 L455.24,367.60 L456.44,367.60 L457.65,367.60 L458.85,367.60 L460.05,367.60 L461.25,367.60 L462.46,367.60 L463.66,367.60 L464.86,367.60 L466.07,367.60 L467.27,367.60 L468.47,367.60 L469.68,367.60 L470.88,367.60 L472.08,367.60 L473.28,367.60 L474.49,367.60 L475.69,367.60 L476.89,367.60 L478.10,367.60 L479.30,367.60 L480.50,367.60 L481.71,367.60 L482.91,367.60 L484.11,367.59 L485.31,367.57 L486.52,367.47 L487.72,367.18 L488.92,366.36 L490.13,364.36 L491.33,360.07 L492.53,351.99 L493.74,338.78 L494.94,320.20 L496.14,298.17 L497.34,277.00 L498.55,262.30 L499.75,258.58 L500.95,267.06 L502.16,285.01 L503.36,307.17 L504.56,328.21 L505.77,344.73 L506.97,355.77 L508.17,362.15 L509.37,365.36 L510.58,366.78 L511.78,367.33 L512.98,367.52 L514.19,367.58 L515.39,367.60 L516.59,367.60 L517.80,367.60 L519.00,367.60 L520.20,367.60 L521.40,367.60 L522.61,367.60 L523.81,367.60 L525.01,367.60 L526.22,367.60 L527.42,367.60 L528.62,367.60 L529.83,367.60 L531.03,367.60 L532.23,367.60 L533.43,367.60 L534.64,367.60 L535.84,367.60 L537.04,367.60 L538.25,367.60 L539.45,367.60 L540.65,367.60 L541.86,367.60 L543.06,367.60 L544.26,367.60 L545.46,367.60 L546.67,367.60 L547.87,367.60 L549.07,367.60 L550.28,367.60 L551.48,367.60 L552.68,367.60 L553.88,367.60 L555.09,367.60 L556.29,367.60 L557.49,367.60 L558.70,367.60 L559.90,367.60 L561.10,367.60 L562.31,367.60 L563.51,367.60 L564.71,367.60 L565.92,367.60 L567.12,367.60 L568.32,367.60 L569.52,367.60 L570.73,367.60 L571.93,367.60 L573.13,367.60 L574.34,367.60 L575.54,367.60 L576.74,367.60 L577.95,367.60 L579.15,367.60 L580.35,367.60 L581.55,367.60 L582.76,367.60 L583.96,367.60 L585.16,367.60 L586.37,367.60 L587.57,367.60 L588.77,367.60 L589.98,367.60 L591.18,367.60 L592.38,367.60 L593.58,367.60 L594.79,367.60 L595.99,367.60 L597.19,367.60 L598.40,367.60 L599.60,367.60 L600.80,367.60 L602.01,367.60 L603.21,367.60 L604.41,367.60 L605.61,367.60 L606.82,367.60 L608.02,367.60 L609.22,367.60 L610.43,367.60 L611.63,367.60 L612.83,367.60 L614.04,367.60 L615.24,367.60 L616.44,367.60 L617.64,367.60 L618.85,367.60 L620.05,367.60 L621.25,367.60 L622.46,367.60 L623.66,367.60 L624.86,367.60 L626.07,367.60 L627.27,367.60 L628.47,367.60 L629.67,367.60 L630.88,367.60 L632.08,367.60 L633.28,367.60 L634.49,367.60 L635.69,367.60 L636.89,367.60 L638.10,367.60 L639.30,367.60 L640.50,367.60 L641.70,367.60 L642.91,367.60 L644.11,367.60 L645.31,367.60 L646.52,367.60 L647.72,367.60 L648.92,367.60 L650.12,367.60 L651.33,367.60 L652.53,367.60 L653.73,367.60 L654.94,367.60 L656.14,367.60 L657.34,367.60 L658.55,367.60 L659.75,367.60 L660.95,367.60 L662.16,367.60 L663.36,367.60 L664.56,367.60 L665.76,367.60 L666.97,367.60 L668.17,367.60 L669.37,367.60 L670.58,367.60 L671.78,367.60 L672.98,367.60 L674.19,367.60 L675.39,367.60 L676.59,367.60 L677.79,367.60 L679.00,367.60 L680.20,367.60" fill="none" stroke="#1a1ae6" stroke-width="1.5" stroke-linejoin="round" />
<text x="506.10" y="265.20" font-size="6.40" font-weight="bold" fill="#1a1ae6" text-anchor="start" textLength="29.00" lengthAdjust="spacingAndGlyphs" >26.0 kDa</text>
<text x="511.20" y="312.60" font-size="6.40" font-weight="bold" fill="#e8364a" text-anchor="start" textLength="28.60" lengthAdjust="spacingAndGlyphs" >40.0 kDa</text>
<text x="535.70" y="329.50" font-size="6.40" font-weight="bold" fill="#111" text-anchor="start" textLength="28.60" lengthAdjust="spacingAndGlyphs" >49.0 kDa</text>
<line x1="514.60" y1="200.80" x2="526.60" y2="200.80" stroke="#111" stroke-width="2.3" />
<text x="529.40" y="203.40" font-size="7.05" font-weight="bold" fill="#111" text-anchor="start" textLength="144.30" lengthAdjust="spacingAndGlyphs" >STK4(11-326) K59R : HOIP(854-1072) = 1 : 5</text>
<line x1="514.60" y1="210.20" x2="526.60" y2="210.20" stroke="#2e8b2e" stroke-width="2.3" />
<text x="529.40" y="212.80" font-size="7.05" font-weight="bold" fill="#2e8b2e" text-anchor="start" textLength="144.30" lengthAdjust="spacingAndGlyphs" >STK4(11-326) K59R : HOIP(854-1072) = 1 : 1</text>
<line x1="514.60" y1="219.50" x2="526.60" y2="219.50" stroke="#e8364a" stroke-width="2.3" />
<text x="529.40" y="222.10" font-size="7.05" font-weight="bold" fill="#e8364a" text-anchor="start" >STK4(11-326) K59R</text>
<line x1="514.60" y1="228.60" x2="526.60" y2="228.60" stroke="#1a1ae6" stroke-width="2.3" />
<text x="529.40" y="231.20" font-size="7.05" font-weight="bold" fill="#1a1ae6" text-anchor="start" >HOIP(854-1072)</text>
</svg>
</body></html>
